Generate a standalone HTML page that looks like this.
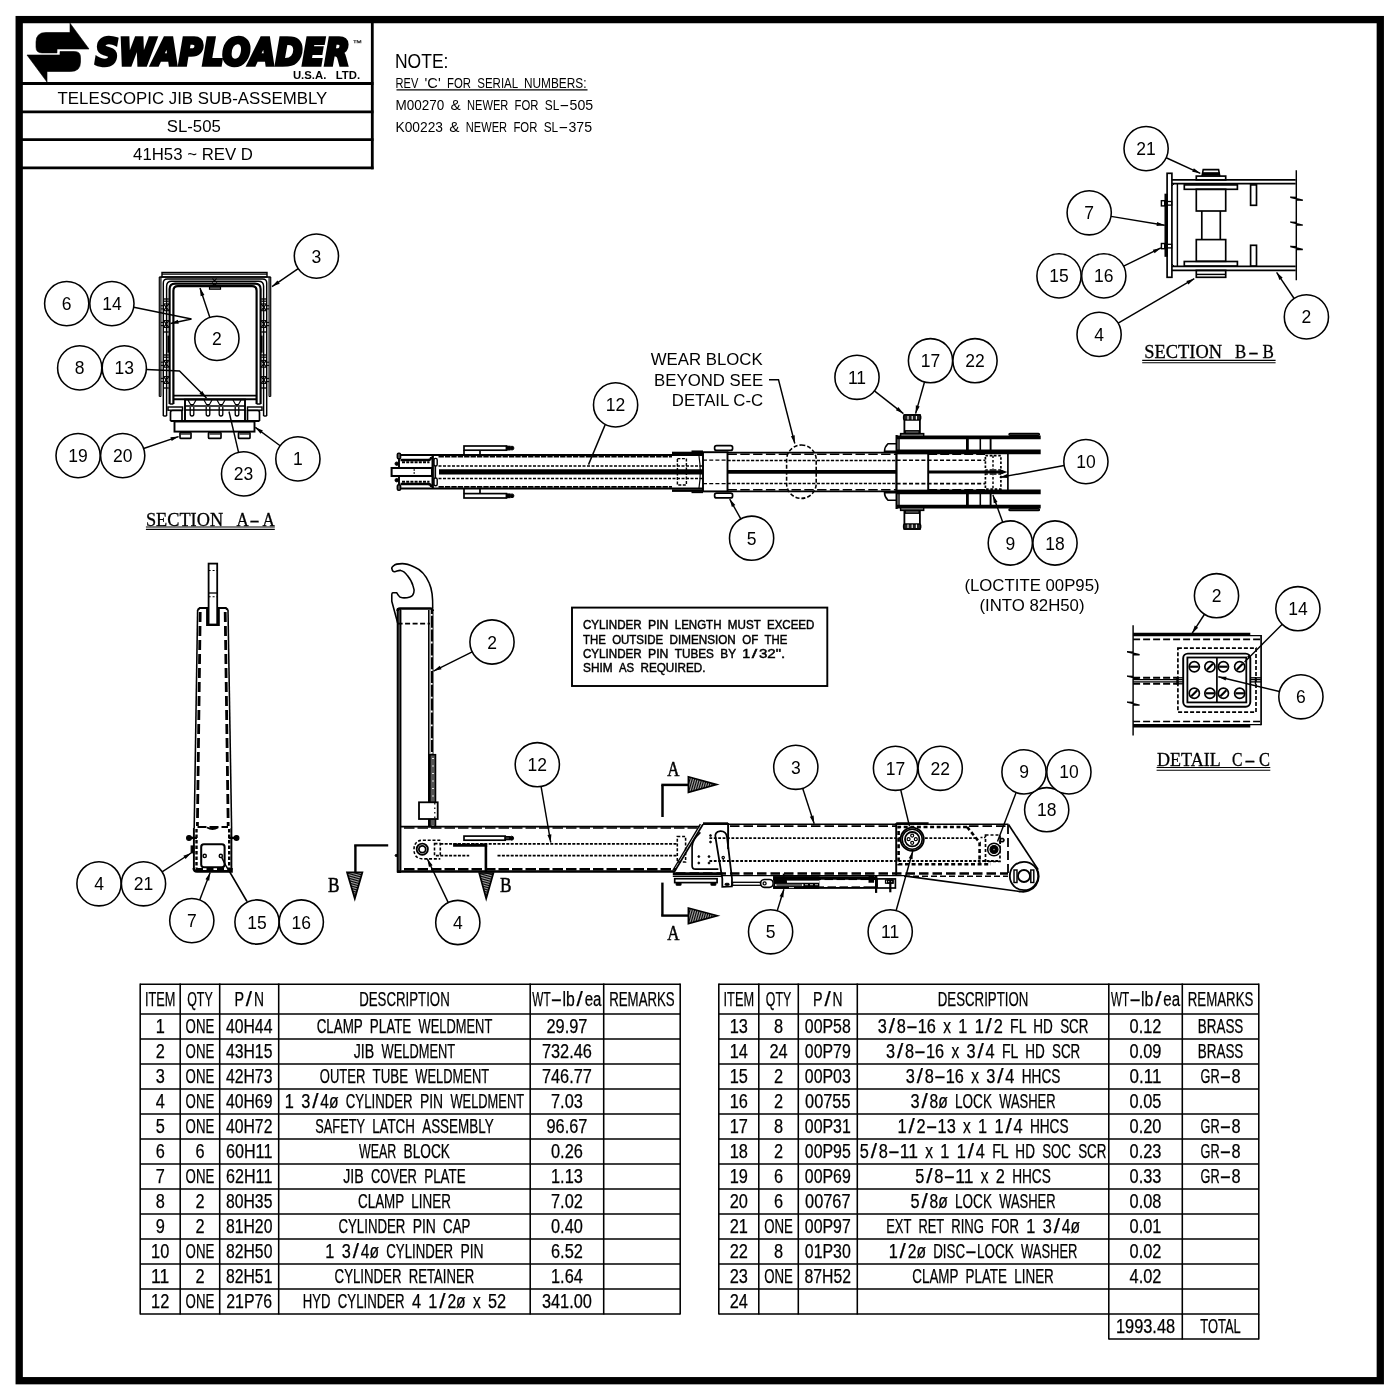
<!DOCTYPE html>
<html><head><meta charset="utf-8"><title>Telescopic Jib Sub-Assembly SL-505</title>
<style>
html,body{margin:0;padding:0;background:#fff}
svg{display:block;will-change:transform}
text{font-family:"Liberation Sans",sans-serif;fill:#000}
.ar{font-size:16.8px}
.bl{font-size:17.5px}
.tb{font-size:19.5px;stroke:#000;stroke-width:0.25px}
.nt{font-size:14px}
.nh{font-size:19.5px}
.bx{font-size:11.9px;stroke:#000;stroke-width:0.45px}
.sf{font-family:"Liberation Serif","DejaVu Serif",serif;font-size:19.2px;stroke:#000;stroke-width:0.3px}
.sl{font-family:"Liberation Serif","DejaVu Serif",serif;font-size:20.4px;stroke:#000;stroke-width:0.5px}
.lg{font-family:"DejaVu Sans","Liberation Sans",sans-serif;font-size:36.6px;font-weight:bold;font-style:oblique;stroke:#000;stroke-width:3.4px;stroke-linejoin:miter}
.us{font-size:10.1px;font-weight:bold}
.tm{font-size:9.6px;font-weight:bold}
</style></head><body>
<svg width="1400" height="1400" viewBox="0 0 1400 1400">
<defs>
<pattern id="hh" width="1.7" height="6" patternUnits="userSpaceOnUse" patternTransform="rotate(-12)"><rect width="1.7" height="6" fill="#fff"/><rect width="1.15" height="6" fill="#000"/></pattern>
<pattern id="hv" width="6" height="1.7" patternUnits="userSpaceOnUse" patternTransform="rotate(-12)"><rect width="6" height="1.7" fill="#fff"/><rect width="6" height="1.15" fill="#000"/></pattern>
</defs>
<rect x="0" y="0" width="1400" height="1400" fill="#fff"/>
<rect x="19.2" y="19.6" width="1361.1" height="1361.1" fill="none" stroke="#000" stroke-width="7.3"/>
<line x1="22" y1="83.5" x2="373.5" y2="83.5" stroke="#000" stroke-width="2.8"/>
<line x1="22" y1="111.8" x2="373.5" y2="111.8" stroke="#000" stroke-width="2.8"/>
<line x1="22" y1="139.6" x2="373.5" y2="139.6" stroke="#000" stroke-width="2.8"/>
<line x1="22" y1="167.9" x2="373.5" y2="167.9" stroke="#000" stroke-width="2.8"/>
<line x1="372.3" y1="22" x2="372.3" y2="169.3" stroke="#000" stroke-width="2.8"/>
<text x="57.6" y="104.1" class="ar" textLength="269.6" lengthAdjust="spacingAndGlyphs">TELESCOPIC JIB SUB-ASSEMBLY</text>
<text x="193.8" y="131.8" class="ar" text-anchor="middle">SL-505</text>
<text x="193" y="159.7" class="ar" text-anchor="middle">41H53 ~ REV D</text>
<path d="M70 23.2 L89 49 L57 49 L57 52.9 L42 52.9 Q36 52.9 36 47 L36 42 Q36 32.5 46 32.5 L70 32.5 Z" fill="#000" stroke="#000" stroke-width="0.6"/>
<path d="M27 55 L60 55 L60 51.5 L74.5 51.5 Q80.5 51.5 80.5 57.5 L80.5 62 Q80.5 71.5 70.5 71.5 L47 71.5 L47 82 Z" fill="#000" stroke="#000" stroke-width="0.6"/>
<text x="95.3" y="65.3" class="lg" textLength="254.6" lengthAdjust="spacingAndGlyphs">SWAPLOADER</text>
<text x="292.9" y="78.7" class="us" textLength="67.2" lengthAdjust="spacingAndGlyphs" xml:space="preserve">U.S.A.   LTD.</text>
<text x="352.6" y="47.4" class="tm">™</text>
<text y="67.5" class="nh"><tspan x="395" textLength="53.4" lengthAdjust="spacingAndGlyphs">NOTE:</tspan></text>
<text y="87.5" class="nt"><tspan x="395.5" textLength="22.79" lengthAdjust="spacingAndGlyphs">REV</tspan> <tspan x="424.58" textLength="16.11" lengthAdjust="spacingAndGlyphs">'C'</tspan> <tspan x="446.98" textLength="23.97" lengthAdjust="spacingAndGlyphs">FOR</tspan> <tspan x="477.24" textLength="40.48" lengthAdjust="spacingAndGlyphs">SERIAL</tspan> <tspan x="524.01" textLength="62.49" lengthAdjust="spacingAndGlyphs">NUMBERS:</tspan></text>
<line x1="396.5" y1="89.8" x2="587.5" y2="89.8" stroke="#000" stroke-width="1.2"/>
<text y="110" class="nt"><tspan x="395.5" textLength="48.73" lengthAdjust="spacingAndGlyphs">M00270</tspan> <tspan x="450.52" textLength="10.22" lengthAdjust="spacingAndGlyphs">&amp;</tspan> <tspan x="467.03" textLength="41.27" lengthAdjust="spacingAndGlyphs">NEWER</tspan> <tspan x="514.58" textLength="23.97" lengthAdjust="spacingAndGlyphs">FOR</tspan> <tspan x="544.84" textLength="14.54" lengthAdjust="spacingAndGlyphs">SL</tspan><tspan x="559.38" textLength="10.22" lengthAdjust="spacingAndGlyphs">-</tspan><tspan x="569.6" textLength="23.58" lengthAdjust="spacingAndGlyphs">505</tspan></text>
<text y="131.5" class="nt"><tspan x="395.5" textLength="47.55" lengthAdjust="spacingAndGlyphs">K00223</tspan> <tspan x="449.34" textLength="10.22" lengthAdjust="spacingAndGlyphs">&amp;</tspan> <tspan x="465.85" textLength="41.27" lengthAdjust="spacingAndGlyphs">NEWER</tspan> <tspan x="513.4" textLength="23.97" lengthAdjust="spacingAndGlyphs">FOR</tspan> <tspan x="543.66" textLength="14.54" lengthAdjust="spacingAndGlyphs">SL</tspan><tspan x="558.2" textLength="10.22" lengthAdjust="spacingAndGlyphs">-</tspan><tspan x="568.42" textLength="23.58" lengthAdjust="spacingAndGlyphs">375</tspan></text>
<rect x="572" y="607.6" width="255.3" height="78.4" fill="none" stroke="#000" stroke-width="1.92"/>
<text y="629.3" class="bx"><tspan x="583" textLength="58.65" lengthAdjust="spacingAndGlyphs">CYLINDER</tspan> <tspan x="648.04" textLength="20.35" lengthAdjust="spacingAndGlyphs">PIN</tspan> <tspan x="674.77" textLength="46.68" lengthAdjust="spacingAndGlyphs">LENGTH</tspan> <tspan x="727.84" textLength="32.72" lengthAdjust="spacingAndGlyphs">MUST</tspan> <tspan x="766.94" textLength="47.48" lengthAdjust="spacingAndGlyphs">EXCEED</tspan></text>
<text y="643.5" class="bx"><tspan x="583" textLength="22.74" lengthAdjust="spacingAndGlyphs">THE</tspan> <tspan x="612.13" textLength="51.07" lengthAdjust="spacingAndGlyphs">OUTSIDE</tspan> <tspan x="669.58" textLength="66.23" lengthAdjust="spacingAndGlyphs">DIMENSION</tspan> <tspan x="742.2" textLength="15.96" lengthAdjust="spacingAndGlyphs">OF</tspan> <tspan x="764.55" textLength="22.74" lengthAdjust="spacingAndGlyphs">THE</tspan></text>
<text y="657.7" class="bx"><tspan x="583" textLength="58.65" lengthAdjust="spacingAndGlyphs">CYLINDER</tspan> <tspan x="648.04" textLength="20.35" lengthAdjust="spacingAndGlyphs">PIN</tspan> <tspan x="674.77" textLength="39.1" lengthAdjust="spacingAndGlyphs">TUBES</tspan> <tspan x="720.26" textLength="15.56" lengthAdjust="spacingAndGlyphs">BY</tspan> <tspan x="742.2" textLength="7.98" lengthAdjust="spacingAndGlyphs">1</tspan><tspan x="751.85" textLength="5.44" lengthAdjust="spacingAndGlyphs">/</tspan><tspan x="758.96" textLength="26.33" lengthAdjust="spacingAndGlyphs">32".</tspan></text>
<text y="671.9" class="bx"><tspan x="583" textLength="29.53" lengthAdjust="spacingAndGlyphs">SHIM</tspan> <tspan x="618.91" textLength="15.16" lengthAdjust="spacingAndGlyphs">AS</tspan> <tspan x="640.46" textLength="65.04" lengthAdjust="spacingAndGlyphs">REQUIRED.</tspan></text>
<text x="762.6" y="365.1" class="ar" text-anchor="end">WEAR BLOCK</text>
<text x="763.2" y="385.5" class="ar" text-anchor="end">BEYOND SEE</text>
<text x="763.2" y="405.7" class="ar" text-anchor="end">DETAIL C-C</text>
<text x="1032" y="590.5" class="ar" text-anchor="middle">(LOCTITE 00P95)</text>
<text x="1032" y="611" class="ar" text-anchor="middle">(INTO 82H50)</text>
<text y="525.6" class="sf"><tspan x="145.9" textLength="77.2" lengthAdjust="spacingAndGlyphs">SECTION</tspan> <tspan x="236.6" textLength="12.2" lengthAdjust="spacingAndGlyphs">A</tspan><tspan x="249.6" textLength="10" lengthAdjust="spacingAndGlyphs">-</tspan><tspan x="262.5" textLength="12.2" lengthAdjust="spacingAndGlyphs">A</tspan></text>
<line x1="145.9" y1="527" x2="274.8" y2="527" stroke="#000" stroke-width="1.14"/>
<line x1="145.9" y1="529.4" x2="274.8" y2="529.4" stroke="#000" stroke-width="1.14"/>
<text y="358" class="sf"><tspan x="1144.3" textLength="77.7" lengthAdjust="spacingAndGlyphs">SECTION</tspan> <tspan x="1235.1" textLength="11.2" lengthAdjust="spacingAndGlyphs">B</tspan><tspan x="1248.3" textLength="10.3" lengthAdjust="spacingAndGlyphs">-</tspan><tspan x="1262.6" textLength="11.4" lengthAdjust="spacingAndGlyphs">B</tspan></text>
<line x1="1142.2" y1="360.4" x2="1275.6" y2="360.4" stroke="#000" stroke-width="1.14"/>
<line x1="1142.2" y1="362.7" x2="1275.6" y2="362.7" stroke="#000" stroke-width="1.14"/>
<text y="765.7" class="sf"><tspan x="1157.1" textLength="62.9" lengthAdjust="spacingAndGlyphs">DETAIL</tspan> <tspan x="1232" textLength="10.5" lengthAdjust="spacingAndGlyphs">C</tspan><tspan x="1244.6" textLength="10.8" lengthAdjust="spacingAndGlyphs">-</tspan><tspan x="1258.9" textLength="11" lengthAdjust="spacingAndGlyphs">C</tspan></text>
<line x1="1156.6" y1="767.5" x2="1270.3" y2="767.5" stroke="#000" stroke-width="1.14"/>
<line x1="1156.6" y1="770.3" x2="1270.3" y2="770.3" stroke="#000" stroke-width="1.14"/>
<line x1="140.2" y1="984.2" x2="680.2" y2="984.2" stroke="#000" stroke-width="1.56"/>
<line x1="140.2" y1="1014" x2="680.2" y2="1014" stroke="#000" stroke-width="1.56"/>
<line x1="140.2" y1="1039" x2="680.2" y2="1039" stroke="#000" stroke-width="1.56"/>
<line x1="140.2" y1="1064" x2="680.2" y2="1064" stroke="#000" stroke-width="1.56"/>
<line x1="140.2" y1="1089" x2="680.2" y2="1089" stroke="#000" stroke-width="1.56"/>
<line x1="140.2" y1="1114" x2="680.2" y2="1114" stroke="#000" stroke-width="1.56"/>
<line x1="140.2" y1="1139" x2="680.2" y2="1139" stroke="#000" stroke-width="1.56"/>
<line x1="140.2" y1="1164" x2="680.2" y2="1164" stroke="#000" stroke-width="1.56"/>
<line x1="140.2" y1="1189" x2="680.2" y2="1189" stroke="#000" stroke-width="1.56"/>
<line x1="140.2" y1="1214" x2="680.2" y2="1214" stroke="#000" stroke-width="1.56"/>
<line x1="140.2" y1="1239" x2="680.2" y2="1239" stroke="#000" stroke-width="1.56"/>
<line x1="140.2" y1="1264" x2="680.2" y2="1264" stroke="#000" stroke-width="1.56"/>
<line x1="140.2" y1="1289" x2="680.2" y2="1289" stroke="#000" stroke-width="1.56"/>
<line x1="140.2" y1="1314" x2="680.2" y2="1314" stroke="#000" stroke-width="1.56"/>
<line x1="140.2" y1="983.6" x2="140.2" y2="1314.6" stroke="#000" stroke-width="1.56"/>
<line x1="180.2" y1="983.6" x2="180.2" y2="1314.6" stroke="#000" stroke-width="1.56"/>
<line x1="219.7" y1="983.6" x2="219.7" y2="1314.6" stroke="#000" stroke-width="1.56"/>
<line x1="278.7" y1="983.6" x2="278.7" y2="1314.6" stroke="#000" stroke-width="1.56"/>
<line x1="530.2" y1="983.6" x2="530.2" y2="1314.6" stroke="#000" stroke-width="1.56"/>
<line x1="603.7" y1="983.6" x2="603.7" y2="1314.6" stroke="#000" stroke-width="1.56"/>
<line x1="680.2" y1="983.6" x2="680.2" y2="1314.6" stroke="#000" stroke-width="1.56"/>
<text y="1006.2" class="tb"><tspan x="144.96" textLength="30.48" lengthAdjust="spacingAndGlyphs">ITEM</tspan></text>
<text y="1006.2" class="tb"><tspan x="187.21" textLength="25.48" lengthAdjust="spacingAndGlyphs">QTY</tspan></text>
<text y="1006.2" class="tb"><tspan x="234.41" textLength="9.55" lengthAdjust="spacingAndGlyphs">P</tspan><tspan x="245.87" textLength="6.21" lengthAdjust="spacingAndGlyphs">/</tspan><tspan x="253.98" textLength="10.01" lengthAdjust="spacingAndGlyphs">N</tspan></text>
<text y="1006.2" class="tb"><tspan x="359.18" textLength="90.55" lengthAdjust="spacingAndGlyphs">DESCRIPTION</tspan></text>
<text y="1006.2" class="tb"><tspan x="532.37" textLength="18.2" lengthAdjust="spacingAndGlyphs">WT</tspan><tspan x="550.57" textLength="11.83" lengthAdjust="spacingAndGlyphs">-</tspan><tspan x="562.4" textLength="12.29" lengthAdjust="spacingAndGlyphs">lb</tspan><tspan x="576.59" textLength="6.21" lengthAdjust="spacingAndGlyphs">/</tspan><tspan x="584.7" textLength="16.84" lengthAdjust="spacingAndGlyphs">ea</tspan></text>
<text y="1006.2" class="tb"><tspan x="609.19" textLength="65.52" lengthAdjust="spacingAndGlyphs">REMARKS</tspan></text>
<text y="1033" class="tb"><tspan x="155.65" textLength="9.1" lengthAdjust="spacingAndGlyphs">1</tspan></text>
<text y="1033" class="tb"><tspan x="185.62" textLength="28.67" lengthAdjust="spacingAndGlyphs">ONE</tspan></text>
<text y="1033" class="tb"><tspan x="225.99" textLength="46.41" lengthAdjust="spacingAndGlyphs">40H44</tspan></text>
<text y="1033" class="tb"><tspan x="316.63" textLength="45.95" lengthAdjust="spacingAndGlyphs">CLAMP</tspan> <tspan x="369.87" textLength="41.41" lengthAdjust="spacingAndGlyphs">PLATE</tspan> <tspan x="418.56" textLength="73.71" lengthAdjust="spacingAndGlyphs">WELDMENT</tspan></text>
<text y="1033" class="tb"><tspan x="546.48" textLength="40.95" lengthAdjust="spacingAndGlyphs">29.97</tspan></text>
<text y="1058" class="tb"><tspan x="155.65" textLength="9.1" lengthAdjust="spacingAndGlyphs">2</tspan></text>
<text y="1058" class="tb"><tspan x="185.62" textLength="28.67" lengthAdjust="spacingAndGlyphs">ONE</tspan></text>
<text y="1058" class="tb"><tspan x="225.99" textLength="46.41" lengthAdjust="spacingAndGlyphs">43H15</tspan></text>
<text y="1058" class="tb"><tspan x="353.72" textLength="20.48" lengthAdjust="spacingAndGlyphs">JIB</tspan> <tspan x="381.47" textLength="73.71" lengthAdjust="spacingAndGlyphs">WELDMENT</tspan></text>
<text y="1058" class="tb"><tspan x="541.93" textLength="50.05" lengthAdjust="spacingAndGlyphs">732.46</tspan></text>
<text y="1083" class="tb"><tspan x="155.65" textLength="9.1" lengthAdjust="spacingAndGlyphs">3</tspan></text>
<text y="1083" class="tb"><tspan x="185.62" textLength="28.67" lengthAdjust="spacingAndGlyphs">ONE</tspan></text>
<text y="1083" class="tb"><tspan x="225.99" textLength="46.41" lengthAdjust="spacingAndGlyphs">42H73</tspan></text>
<text y="1083" class="tb"><tspan x="319.82" textLength="45.5" lengthAdjust="spacingAndGlyphs">OUTER</tspan> <tspan x="372.6" textLength="35.49" lengthAdjust="spacingAndGlyphs">TUBE</tspan> <tspan x="415.37" textLength="73.71" lengthAdjust="spacingAndGlyphs">WELDMENT</tspan></text>
<text y="1083" class="tb"><tspan x="541.93" textLength="50.05" lengthAdjust="spacingAndGlyphs">746.77</tspan></text>
<text y="1108" class="tb"><tspan x="155.65" textLength="9.1" lengthAdjust="spacingAndGlyphs">4</tspan></text>
<text y="1108" class="tb"><tspan x="185.62" textLength="28.67" lengthAdjust="spacingAndGlyphs">ONE</tspan></text>
<text y="1108" class="tb"><tspan x="225.99" textLength="46.41" lengthAdjust="spacingAndGlyphs">40H69</tspan></text>
<text y="1108" class="tb"><tspan x="284.78" textLength="9.1" lengthAdjust="spacingAndGlyphs">1</tspan> <tspan x="301.16" textLength="9.1" lengthAdjust="spacingAndGlyphs">3</tspan><tspan x="312.17" textLength="6.21" lengthAdjust="spacingAndGlyphs">/</tspan><tspan x="320.27" textLength="18.2" lengthAdjust="spacingAndGlyphs">4ø</tspan> <tspan x="345.75" textLength="66.89" lengthAdjust="spacingAndGlyphs">CYLINDER</tspan> <tspan x="419.92" textLength="23.21" lengthAdjust="spacingAndGlyphs">PIN</tspan> <tspan x="450.4" textLength="73.71" lengthAdjust="spacingAndGlyphs">WELDMENT</tspan></text>
<text y="1108" class="tb"><tspan x="551.03" textLength="31.85" lengthAdjust="spacingAndGlyphs">7.03</tspan></text>
<text y="1133" class="tb"><tspan x="155.65" textLength="9.1" lengthAdjust="spacingAndGlyphs">5</tspan></text>
<text y="1133" class="tb"><tspan x="185.62" textLength="28.67" lengthAdjust="spacingAndGlyphs">ONE</tspan></text>
<text y="1133" class="tb"><tspan x="225.99" textLength="46.41" lengthAdjust="spacingAndGlyphs">40H72</tspan></text>
<text y="1133" class="tb"><tspan x="315.27" textLength="49.59" lengthAdjust="spacingAndGlyphs">SAFETY</tspan> <tspan x="372.14" textLength="42.77" lengthAdjust="spacingAndGlyphs">LATCH</tspan> <tspan x="422.19" textLength="71.44" lengthAdjust="spacingAndGlyphs">ASSEMBLY</tspan></text>
<text y="1133" class="tb"><tspan x="546.48" textLength="40.95" lengthAdjust="spacingAndGlyphs">96.67</tspan></text>
<text y="1158" class="tb"><tspan x="155.65" textLength="9.1" lengthAdjust="spacingAndGlyphs">6</tspan></text>
<text y="1158" class="tb"><tspan x="195.4" textLength="9.1" lengthAdjust="spacingAndGlyphs">6</tspan></text>
<text y="1158" class="tb"><tspan x="225.99" textLength="46.41" lengthAdjust="spacingAndGlyphs">60H11</tspan></text>
<text y="1158" class="tb"><tspan x="358.95" textLength="37.31" lengthAdjust="spacingAndGlyphs">WEAR</tspan> <tspan x="403.54" textLength="46.41" lengthAdjust="spacingAndGlyphs">BLOCK</tspan></text>
<text y="1158" class="tb"><tspan x="551.03" textLength="31.85" lengthAdjust="spacingAndGlyphs">0.26</tspan></text>
<text y="1183" class="tb"><tspan x="155.65" textLength="9.1" lengthAdjust="spacingAndGlyphs">7</tspan></text>
<text y="1183" class="tb"><tspan x="185.62" textLength="28.67" lengthAdjust="spacingAndGlyphs">ONE</tspan></text>
<text y="1183" class="tb"><tspan x="225.99" textLength="46.41" lengthAdjust="spacingAndGlyphs">62H11</tspan></text>
<text y="1183" class="tb"><tspan x="343.25" textLength="20.48" lengthAdjust="spacingAndGlyphs">JIB</tspan> <tspan x="371.01" textLength="45.95" lengthAdjust="spacingAndGlyphs">COVER</tspan> <tspan x="424.24" textLength="41.41" lengthAdjust="spacingAndGlyphs">PLATE</tspan></text>
<text y="1183" class="tb"><tspan x="551.03" textLength="31.85" lengthAdjust="spacingAndGlyphs">1.13</tspan></text>
<text y="1208" class="tb"><tspan x="155.65" textLength="9.1" lengthAdjust="spacingAndGlyphs">8</tspan></text>
<text y="1208" class="tb"><tspan x="195.4" textLength="9.1" lengthAdjust="spacingAndGlyphs">2</tspan></text>
<text y="1208" class="tb"><tspan x="225.99" textLength="46.41" lengthAdjust="spacingAndGlyphs">80H35</tspan></text>
<text y="1208" class="tb"><tspan x="358.04" textLength="45.95" lengthAdjust="spacingAndGlyphs">CLAMP</tspan> <tspan x="411.27" textLength="39.59" lengthAdjust="spacingAndGlyphs">LINER</tspan></text>
<text y="1208" class="tb"><tspan x="551.03" textLength="31.85" lengthAdjust="spacingAndGlyphs">7.02</tspan></text>
<text y="1233" class="tb"><tspan x="155.65" textLength="9.1" lengthAdjust="spacingAndGlyphs">9</tspan></text>
<text y="1233" class="tb"><tspan x="195.4" textLength="9.1" lengthAdjust="spacingAndGlyphs">2</tspan></text>
<text y="1233" class="tb"><tspan x="225.99" textLength="46.41" lengthAdjust="spacingAndGlyphs">81H20</tspan></text>
<text y="1233" class="tb"><tspan x="338.47" textLength="66.89" lengthAdjust="spacingAndGlyphs">CYLINDER</tspan> <tspan x="412.64" textLength="23.21" lengthAdjust="spacingAndGlyphs">PIN</tspan> <tspan x="443.12" textLength="27.3" lengthAdjust="spacingAndGlyphs">CAP</tspan></text>
<text y="1233" class="tb"><tspan x="551.03" textLength="31.85" lengthAdjust="spacingAndGlyphs">0.40</tspan></text>
<text y="1258" class="tb"><tspan x="151.1" textLength="18.2" lengthAdjust="spacingAndGlyphs">10</tspan></text>
<text y="1258" class="tb"><tspan x="185.62" textLength="28.67" lengthAdjust="spacingAndGlyphs">ONE</tspan></text>
<text y="1258" class="tb"><tspan x="225.99" textLength="46.41" lengthAdjust="spacingAndGlyphs">82H50</tspan></text>
<text y="1258" class="tb"><tspan x="325.28" textLength="9.1" lengthAdjust="spacingAndGlyphs">1</tspan> <tspan x="341.66" textLength="9.1" lengthAdjust="spacingAndGlyphs">3</tspan><tspan x="352.66" textLength="6.21" lengthAdjust="spacingAndGlyphs">/</tspan><tspan x="360.77" textLength="18.2" lengthAdjust="spacingAndGlyphs">4ø</tspan> <tspan x="386.25" textLength="66.89" lengthAdjust="spacingAndGlyphs">CYLINDER</tspan> <tspan x="460.41" textLength="23.21" lengthAdjust="spacingAndGlyphs">PIN</tspan></text>
<text y="1258" class="tb"><tspan x="551.03" textLength="31.85" lengthAdjust="spacingAndGlyphs">6.52</tspan></text>
<text y="1283" class="tb"><tspan x="151.1" textLength="18.2" lengthAdjust="spacingAndGlyphs">11</tspan></text>
<text y="1283" class="tb"><tspan x="195.4" textLength="9.1" lengthAdjust="spacingAndGlyphs">2</tspan></text>
<text y="1283" class="tb"><tspan x="225.99" textLength="46.41" lengthAdjust="spacingAndGlyphs">82H51</tspan></text>
<text y="1283" class="tb"><tspan x="334.61" textLength="66.89" lengthAdjust="spacingAndGlyphs">CYLINDER</tspan> <tspan x="408.77" textLength="65.52" lengthAdjust="spacingAndGlyphs">RETAINER</tspan></text>
<text y="1283" class="tb"><tspan x="551.03" textLength="31.85" lengthAdjust="spacingAndGlyphs">1.64</tspan></text>
<text y="1308" class="tb"><tspan x="151.1" textLength="18.2" lengthAdjust="spacingAndGlyphs">12</tspan></text>
<text y="1308" class="tb"><tspan x="185.62" textLength="28.67" lengthAdjust="spacingAndGlyphs">ONE</tspan></text>
<text y="1308" class="tb"><tspan x="226.22" textLength="45.95" lengthAdjust="spacingAndGlyphs">21P76</tspan></text>
<text y="1308" class="tb"><tspan x="302.76" textLength="27.76" lengthAdjust="spacingAndGlyphs">HYD</tspan> <tspan x="337.79" textLength="66.89" lengthAdjust="spacingAndGlyphs">CYLINDER</tspan> <tspan x="411.96" textLength="9.1" lengthAdjust="spacingAndGlyphs">4</tspan> <tspan x="428.34" textLength="9.1" lengthAdjust="spacingAndGlyphs">1</tspan><tspan x="439.34" textLength="6.21" lengthAdjust="spacingAndGlyphs">/</tspan><tspan x="447.45" textLength="18.2" lengthAdjust="spacingAndGlyphs">2ø</tspan> <tspan x="472.93" textLength="7.74" lengthAdjust="spacingAndGlyphs">x</tspan> <tspan x="487.94" textLength="18.2" lengthAdjust="spacingAndGlyphs">52</tspan></text>
<text y="1308" class="tb"><tspan x="541.93" textLength="50.05" lengthAdjust="spacingAndGlyphs">341.00</tspan></text>
<line x1="718.8" y1="984.2" x2="1258.8" y2="984.2" stroke="#000" stroke-width="1.56"/>
<line x1="718.8" y1="1014" x2="1258.8" y2="1014" stroke="#000" stroke-width="1.56"/>
<line x1="718.8" y1="1039" x2="1258.8" y2="1039" stroke="#000" stroke-width="1.56"/>
<line x1="718.8" y1="1064" x2="1258.8" y2="1064" stroke="#000" stroke-width="1.56"/>
<line x1="718.8" y1="1089" x2="1258.8" y2="1089" stroke="#000" stroke-width="1.56"/>
<line x1="718.8" y1="1114" x2="1258.8" y2="1114" stroke="#000" stroke-width="1.56"/>
<line x1="718.8" y1="1139" x2="1258.8" y2="1139" stroke="#000" stroke-width="1.56"/>
<line x1="718.8" y1="1164" x2="1258.8" y2="1164" stroke="#000" stroke-width="1.56"/>
<line x1="718.8" y1="1189" x2="1258.8" y2="1189" stroke="#000" stroke-width="1.56"/>
<line x1="718.8" y1="1214" x2="1258.8" y2="1214" stroke="#000" stroke-width="1.56"/>
<line x1="718.8" y1="1239" x2="1258.8" y2="1239" stroke="#000" stroke-width="1.56"/>
<line x1="718.8" y1="1264" x2="1258.8" y2="1264" stroke="#000" stroke-width="1.56"/>
<line x1="718.8" y1="1289" x2="1258.8" y2="1289" stroke="#000" stroke-width="1.56"/>
<line x1="718.8" y1="1314" x2="1258.8" y2="1314" stroke="#000" stroke-width="1.56"/>
<line x1="718.8" y1="983.6" x2="718.8" y2="1314.6" stroke="#000" stroke-width="1.56"/>
<line x1="758.8" y1="983.6" x2="758.8" y2="1314.6" stroke="#000" stroke-width="1.56"/>
<line x1="798.3" y1="983.6" x2="798.3" y2="1314.6" stroke="#000" stroke-width="1.56"/>
<line x1="857.3" y1="983.6" x2="857.3" y2="1314.6" stroke="#000" stroke-width="1.56"/>
<line x1="1108.8" y1="983.6" x2="1108.8" y2="1314.6" stroke="#000" stroke-width="1.56"/>
<line x1="1182.3" y1="983.6" x2="1182.3" y2="1314.6" stroke="#000" stroke-width="1.56"/>
<line x1="1258.8" y1="983.6" x2="1258.8" y2="1314.6" stroke="#000" stroke-width="1.56"/>
<text y="1006.2" class="tb"><tspan x="723.56" textLength="30.48" lengthAdjust="spacingAndGlyphs">ITEM</tspan></text>
<text y="1006.2" class="tb"><tspan x="765.81" textLength="25.48" lengthAdjust="spacingAndGlyphs">QTY</tspan></text>
<text y="1006.2" class="tb"><tspan x="813.01" textLength="9.55" lengthAdjust="spacingAndGlyphs">P</tspan><tspan x="824.47" textLength="6.21" lengthAdjust="spacingAndGlyphs">/</tspan><tspan x="832.58" textLength="10.01" lengthAdjust="spacingAndGlyphs">N</tspan></text>
<text y="1006.2" class="tb"><tspan x="937.78" textLength="90.55" lengthAdjust="spacingAndGlyphs">DESCRIPTION</tspan></text>
<text y="1006.2" class="tb"><tspan x="1110.97" textLength="18.2" lengthAdjust="spacingAndGlyphs">WT</tspan><tspan x="1129.17" textLength="11.83" lengthAdjust="spacingAndGlyphs">-</tspan><tspan x="1141" textLength="12.29" lengthAdjust="spacingAndGlyphs">lb</tspan><tspan x="1155.19" textLength="6.21" lengthAdjust="spacingAndGlyphs">/</tspan><tspan x="1163.3" textLength="16.84" lengthAdjust="spacingAndGlyphs">ea</tspan></text>
<text y="1006.2" class="tb"><tspan x="1187.79" textLength="65.52" lengthAdjust="spacingAndGlyphs">REMARKS</tspan></text>
<text y="1033" class="tb"><tspan x="729.7" textLength="18.2" lengthAdjust="spacingAndGlyphs">13</tspan></text>
<text y="1033" class="tb"><tspan x="774" textLength="9.1" lengthAdjust="spacingAndGlyphs">8</tspan></text>
<text y="1033" class="tb"><tspan x="804.82" textLength="45.95" lengthAdjust="spacingAndGlyphs">00P58</tspan></text>
<text y="1033" class="tb"><tspan x="877.72" textLength="9.1" lengthAdjust="spacingAndGlyphs">3</tspan><tspan x="888.72" textLength="6.21" lengthAdjust="spacingAndGlyphs">/</tspan><tspan x="896.83" textLength="9.1" lengthAdjust="spacingAndGlyphs">8</tspan><tspan x="905.93" textLength="11.83" lengthAdjust="spacingAndGlyphs">-</tspan><tspan x="917.76" textLength="18.2" lengthAdjust="spacingAndGlyphs">16</tspan> <tspan x="943.24" textLength="7.74" lengthAdjust="spacingAndGlyphs">x</tspan> <tspan x="958.25" textLength="9.1" lengthAdjust="spacingAndGlyphs">1</tspan> <tspan x="974.63" textLength="9.1" lengthAdjust="spacingAndGlyphs">1</tspan><tspan x="985.63" textLength="6.21" lengthAdjust="spacingAndGlyphs">/</tspan><tspan x="993.74" textLength="9.1" lengthAdjust="spacingAndGlyphs">2</tspan> <tspan x="1010.12" textLength="15.93" lengthAdjust="spacingAndGlyphs">FL</tspan> <tspan x="1033.33" textLength="19.57" lengthAdjust="spacingAndGlyphs">HD</tspan> <tspan x="1060.17" textLength="28.21" lengthAdjust="spacingAndGlyphs">SCR</tspan></text>
<text y="1033" class="tb"><tspan x="1129.62" textLength="31.85" lengthAdjust="spacingAndGlyphs">0.12</tspan></text>
<text y="1033" class="tb"><tspan x="1197.8" textLength="45.5" lengthAdjust="spacingAndGlyphs">BRASS</tspan></text>
<text y="1058" class="tb"><tspan x="729.7" textLength="18.2" lengthAdjust="spacingAndGlyphs">14</tspan></text>
<text y="1058" class="tb"><tspan x="769.45" textLength="18.2" lengthAdjust="spacingAndGlyphs">24</tspan></text>
<text y="1058" class="tb"><tspan x="804.82" textLength="45.95" lengthAdjust="spacingAndGlyphs">00P79</tspan></text>
<text y="1058" class="tb"><tspan x="885.91" textLength="9.1" lengthAdjust="spacingAndGlyphs">3</tspan><tspan x="896.91" textLength="6.21" lengthAdjust="spacingAndGlyphs">/</tspan><tspan x="905.02" textLength="9.1" lengthAdjust="spacingAndGlyphs">8</tspan><tspan x="914.12" textLength="11.83" lengthAdjust="spacingAndGlyphs">-</tspan><tspan x="925.95" textLength="18.2" lengthAdjust="spacingAndGlyphs">16</tspan> <tspan x="951.43" textLength="7.74" lengthAdjust="spacingAndGlyphs">x</tspan> <tspan x="966.44" textLength="9.1" lengthAdjust="spacingAndGlyphs">3</tspan><tspan x="977.44" textLength="6.21" lengthAdjust="spacingAndGlyphs">/</tspan><tspan x="985.55" textLength="9.1" lengthAdjust="spacingAndGlyphs">4</tspan> <tspan x="1001.93" textLength="15.93" lengthAdjust="spacingAndGlyphs">FL</tspan> <tspan x="1025.14" textLength="19.57" lengthAdjust="spacingAndGlyphs">HD</tspan> <tspan x="1051.98" textLength="28.21" lengthAdjust="spacingAndGlyphs">SCR</tspan></text>
<text y="1058" class="tb"><tspan x="1129.62" textLength="31.85" lengthAdjust="spacingAndGlyphs">0.09</tspan></text>
<text y="1058" class="tb"><tspan x="1197.8" textLength="45.5" lengthAdjust="spacingAndGlyphs">BRASS</tspan></text>
<text y="1083" class="tb"><tspan x="729.7" textLength="18.2" lengthAdjust="spacingAndGlyphs">15</tspan></text>
<text y="1083" class="tb"><tspan x="774" textLength="9.1" lengthAdjust="spacingAndGlyphs">2</tspan></text>
<text y="1083" class="tb"><tspan x="804.82" textLength="45.95" lengthAdjust="spacingAndGlyphs">00P03</tspan></text>
<text y="1083" class="tb"><tspan x="905.7" textLength="9.1" lengthAdjust="spacingAndGlyphs">3</tspan><tspan x="916.7" textLength="6.21" lengthAdjust="spacingAndGlyphs">/</tspan><tspan x="924.81" textLength="9.1" lengthAdjust="spacingAndGlyphs">8</tspan><tspan x="933.91" textLength="11.83" lengthAdjust="spacingAndGlyphs">-</tspan><tspan x="945.74" textLength="18.2" lengthAdjust="spacingAndGlyphs">16</tspan> <tspan x="971.22" textLength="7.74" lengthAdjust="spacingAndGlyphs">x</tspan> <tspan x="986.23" textLength="9.1" lengthAdjust="spacingAndGlyphs">3</tspan><tspan x="997.24" textLength="6.21" lengthAdjust="spacingAndGlyphs">/</tspan><tspan x="1005.34" textLength="9.1" lengthAdjust="spacingAndGlyphs">4</tspan> <tspan x="1021.72" textLength="38.68" lengthAdjust="spacingAndGlyphs">HHCS</tspan></text>
<text y="1083" class="tb"><tspan x="1129.62" textLength="31.85" lengthAdjust="spacingAndGlyphs">0.11</tspan></text>
<text y="1083" class="tb"><tspan x="1200.53" textLength="19.11" lengthAdjust="spacingAndGlyphs">GR</tspan><tspan x="1219.64" textLength="11.83" lengthAdjust="spacingAndGlyphs">-</tspan><tspan x="1231.47" textLength="9.1" lengthAdjust="spacingAndGlyphs">8</tspan></text>
<text y="1108" class="tb"><tspan x="729.7" textLength="18.2" lengthAdjust="spacingAndGlyphs">16</tspan></text>
<text y="1108" class="tb"><tspan x="774" textLength="9.1" lengthAdjust="spacingAndGlyphs">2</tspan></text>
<text y="1108" class="tb"><tspan x="805.05" textLength="45.5" lengthAdjust="spacingAndGlyphs">00755</tspan></text>
<text y="1108" class="tb"><tspan x="910.48" textLength="9.1" lengthAdjust="spacingAndGlyphs">3</tspan><tspan x="921.48" textLength="6.21" lengthAdjust="spacingAndGlyphs">/</tspan><tspan x="929.59" textLength="18.2" lengthAdjust="spacingAndGlyphs">8ø</tspan> <tspan x="955.07" textLength="36.86" lengthAdjust="spacingAndGlyphs">LOCK</tspan> <tspan x="999.2" textLength="56.42" lengthAdjust="spacingAndGlyphs">WASHER</tspan></text>
<text y="1108" class="tb"><tspan x="1129.62" textLength="31.85" lengthAdjust="spacingAndGlyphs">0.05</tspan></text>
<text y="1133" class="tb"><tspan x="729.7" textLength="18.2" lengthAdjust="spacingAndGlyphs">17</tspan></text>
<text y="1133" class="tb"><tspan x="774" textLength="9.1" lengthAdjust="spacingAndGlyphs">8</tspan></text>
<text y="1133" class="tb"><tspan x="804.82" textLength="45.95" lengthAdjust="spacingAndGlyphs">00P31</tspan></text>
<text y="1133" class="tb"><tspan x="897.51" textLength="9.1" lengthAdjust="spacingAndGlyphs">1</tspan><tspan x="908.51" textLength="6.21" lengthAdjust="spacingAndGlyphs">/</tspan><tspan x="916.62" textLength="9.1" lengthAdjust="spacingAndGlyphs">2</tspan><tspan x="925.72" textLength="11.83" lengthAdjust="spacingAndGlyphs">-</tspan><tspan x="937.55" textLength="18.2" lengthAdjust="spacingAndGlyphs">13</tspan> <tspan x="963.03" textLength="7.74" lengthAdjust="spacingAndGlyphs">x</tspan> <tspan x="978.04" textLength="9.1" lengthAdjust="spacingAndGlyphs">1</tspan> <tspan x="994.42" textLength="9.1" lengthAdjust="spacingAndGlyphs">1</tspan><tspan x="1005.43" textLength="6.21" lengthAdjust="spacingAndGlyphs">/</tspan><tspan x="1013.53" textLength="9.1" lengthAdjust="spacingAndGlyphs">4</tspan> <tspan x="1029.91" textLength="38.68" lengthAdjust="spacingAndGlyphs">HHCS</tspan></text>
<text y="1133" class="tb"><tspan x="1129.62" textLength="31.85" lengthAdjust="spacingAndGlyphs">0.20</tspan></text>
<text y="1133" class="tb"><tspan x="1200.53" textLength="19.11" lengthAdjust="spacingAndGlyphs">GR</tspan><tspan x="1219.64" textLength="11.83" lengthAdjust="spacingAndGlyphs">-</tspan><tspan x="1231.47" textLength="9.1" lengthAdjust="spacingAndGlyphs">8</tspan></text>
<text y="1158" class="tb"><tspan x="729.7" textLength="18.2" lengthAdjust="spacingAndGlyphs">18</tspan></text>
<text y="1158" class="tb"><tspan x="774" textLength="9.1" lengthAdjust="spacingAndGlyphs">2</tspan></text>
<text y="1158" class="tb"><tspan x="804.82" textLength="45.95" lengthAdjust="spacingAndGlyphs">00P95</tspan></text>
<text y="1158" class="tb"><tspan x="859.74" textLength="9.1" lengthAdjust="spacingAndGlyphs">5</tspan><tspan x="870.75" textLength="6.21" lengthAdjust="spacingAndGlyphs">/</tspan><tspan x="878.85" textLength="9.1" lengthAdjust="spacingAndGlyphs">8</tspan><tspan x="887.95" textLength="11.83" lengthAdjust="spacingAndGlyphs">-</tspan><tspan x="899.78" textLength="18.2" lengthAdjust="spacingAndGlyphs">11</tspan> <tspan x="925.26" textLength="7.74" lengthAdjust="spacingAndGlyphs">x</tspan> <tspan x="940.28" textLength="9.1" lengthAdjust="spacingAndGlyphs">1</tspan> <tspan x="956.66" textLength="9.1" lengthAdjust="spacingAndGlyphs">1</tspan><tspan x="967.66" textLength="6.21" lengthAdjust="spacingAndGlyphs">/</tspan><tspan x="975.77" textLength="9.1" lengthAdjust="spacingAndGlyphs">4</tspan> <tspan x="992.15" textLength="15.93" lengthAdjust="spacingAndGlyphs">FL</tspan> <tspan x="1015.35" textLength="19.57" lengthAdjust="spacingAndGlyphs">HD</tspan> <tspan x="1042.2" textLength="28.67" lengthAdjust="spacingAndGlyphs">SOC</tspan> <tspan x="1078.14" textLength="28.21" lengthAdjust="spacingAndGlyphs">SCR</tspan></text>
<text y="1158" class="tb"><tspan x="1129.62" textLength="31.85" lengthAdjust="spacingAndGlyphs">0.23</tspan></text>
<text y="1158" class="tb"><tspan x="1200.53" textLength="19.11" lengthAdjust="spacingAndGlyphs">GR</tspan><tspan x="1219.64" textLength="11.83" lengthAdjust="spacingAndGlyphs">-</tspan><tspan x="1231.47" textLength="9.1" lengthAdjust="spacingAndGlyphs">8</tspan></text>
<text y="1183" class="tb"><tspan x="729.7" textLength="18.2" lengthAdjust="spacingAndGlyphs">19</tspan></text>
<text y="1183" class="tb"><tspan x="774" textLength="9.1" lengthAdjust="spacingAndGlyphs">6</tspan></text>
<text y="1183" class="tb"><tspan x="804.82" textLength="45.95" lengthAdjust="spacingAndGlyphs">00P69</tspan></text>
<text y="1183" class="tb"><tspan x="915.25" textLength="9.1" lengthAdjust="spacingAndGlyphs">5</tspan><tspan x="926.26" textLength="6.21" lengthAdjust="spacingAndGlyphs">/</tspan><tspan x="934.37" textLength="9.1" lengthAdjust="spacingAndGlyphs">8</tspan><tspan x="943.47" textLength="11.83" lengthAdjust="spacingAndGlyphs">-</tspan><tspan x="955.29" textLength="18.2" lengthAdjust="spacingAndGlyphs">11</tspan> <tspan x="980.77" textLength="7.74" lengthAdjust="spacingAndGlyphs">x</tspan> <tspan x="995.79" textLength="9.1" lengthAdjust="spacingAndGlyphs">2</tspan> <tspan x="1012.17" textLength="38.68" lengthAdjust="spacingAndGlyphs">HHCS</tspan></text>
<text y="1183" class="tb"><tspan x="1129.62" textLength="31.85" lengthAdjust="spacingAndGlyphs">0.33</tspan></text>
<text y="1183" class="tb"><tspan x="1200.53" textLength="19.11" lengthAdjust="spacingAndGlyphs">GR</tspan><tspan x="1219.64" textLength="11.83" lengthAdjust="spacingAndGlyphs">-</tspan><tspan x="1231.47" textLength="9.1" lengthAdjust="spacingAndGlyphs">8</tspan></text>
<text y="1208" class="tb"><tspan x="729.7" textLength="18.2" lengthAdjust="spacingAndGlyphs">20</tspan></text>
<text y="1208" class="tb"><tspan x="774" textLength="9.1" lengthAdjust="spacingAndGlyphs">6</tspan></text>
<text y="1208" class="tb"><tspan x="805.05" textLength="45.5" lengthAdjust="spacingAndGlyphs">00767</tspan></text>
<text y="1208" class="tb"><tspan x="910.48" textLength="9.1" lengthAdjust="spacingAndGlyphs">5</tspan><tspan x="921.48" textLength="6.21" lengthAdjust="spacingAndGlyphs">/</tspan><tspan x="929.59" textLength="18.2" lengthAdjust="spacingAndGlyphs">8ø</tspan> <tspan x="955.07" textLength="36.86" lengthAdjust="spacingAndGlyphs">LOCK</tspan> <tspan x="999.2" textLength="56.42" lengthAdjust="spacingAndGlyphs">WASHER</tspan></text>
<text y="1208" class="tb"><tspan x="1129.62" textLength="31.85" lengthAdjust="spacingAndGlyphs">0.08</tspan></text>
<text y="1233" class="tb"><tspan x="729.7" textLength="18.2" lengthAdjust="spacingAndGlyphs">21</tspan></text>
<text y="1233" class="tb"><tspan x="764.22" textLength="28.67" lengthAdjust="spacingAndGlyphs">ONE</tspan></text>
<text y="1233" class="tb"><tspan x="804.82" textLength="45.95" lengthAdjust="spacingAndGlyphs">00P97</tspan></text>
<text y="1233" class="tb"><tspan x="886.13" textLength="25.03" lengthAdjust="spacingAndGlyphs">EXT</tspan> <tspan x="918.44" textLength="25.48" lengthAdjust="spacingAndGlyphs">RET</tspan> <tspan x="951.2" textLength="32.76" lengthAdjust="spacingAndGlyphs">RING</tspan> <tspan x="991.24" textLength="27.76" lengthAdjust="spacingAndGlyphs">FOR</tspan> <tspan x="1026.28" textLength="9.1" lengthAdjust="spacingAndGlyphs">1</tspan> <tspan x="1042.65" textLength="9.1" lengthAdjust="spacingAndGlyphs">3</tspan><tspan x="1053.66" textLength="6.21" lengthAdjust="spacingAndGlyphs">/</tspan><tspan x="1061.76" textLength="18.2" lengthAdjust="spacingAndGlyphs">4ø</tspan></text>
<text y="1233" class="tb"><tspan x="1129.62" textLength="31.85" lengthAdjust="spacingAndGlyphs">0.01</tspan></text>
<text y="1258" class="tb"><tspan x="729.7" textLength="18.2" lengthAdjust="spacingAndGlyphs">22</tspan></text>
<text y="1258" class="tb"><tspan x="774" textLength="9.1" lengthAdjust="spacingAndGlyphs">8</tspan></text>
<text y="1258" class="tb"><tspan x="804.82" textLength="45.95" lengthAdjust="spacingAndGlyphs">01P30</tspan></text>
<text y="1258" class="tb"><tspan x="888.64" textLength="9.1" lengthAdjust="spacingAndGlyphs">1</tspan><tspan x="899.64" textLength="6.21" lengthAdjust="spacingAndGlyphs">/</tspan><tspan x="907.75" textLength="18.2" lengthAdjust="spacingAndGlyphs">2ø</tspan> <tspan x="933.23" textLength="31.85" lengthAdjust="spacingAndGlyphs">DISC</tspan><tspan x="965.08" textLength="11.83" lengthAdjust="spacingAndGlyphs">-</tspan><tspan x="976.91" textLength="36.86" lengthAdjust="spacingAndGlyphs">LOCK</tspan> <tspan x="1021.04" textLength="56.42" lengthAdjust="spacingAndGlyphs">WASHER</tspan></text>
<text y="1258" class="tb"><tspan x="1129.62" textLength="31.85" lengthAdjust="spacingAndGlyphs">0.02</tspan></text>
<text y="1283" class="tb"><tspan x="729.7" textLength="18.2" lengthAdjust="spacingAndGlyphs">23</tspan></text>
<text y="1283" class="tb"><tspan x="764.22" textLength="28.67" lengthAdjust="spacingAndGlyphs">ONE</tspan></text>
<text y="1283" class="tb"><tspan x="804.59" textLength="46.41" lengthAdjust="spacingAndGlyphs">87H52</tspan></text>
<text y="1283" class="tb"><tspan x="912.3" textLength="45.95" lengthAdjust="spacingAndGlyphs">CLAMP</tspan> <tspan x="965.53" textLength="41.41" lengthAdjust="spacingAndGlyphs">PLATE</tspan> <tspan x="1014.22" textLength="39.59" lengthAdjust="spacingAndGlyphs">LINER</tspan></text>
<text y="1283" class="tb"><tspan x="1129.62" textLength="31.85" lengthAdjust="spacingAndGlyphs">4.02</tspan></text>
<text y="1308" class="tb"><tspan x="729.7" textLength="18.2" lengthAdjust="spacingAndGlyphs">24</tspan></text>
<line x1="1108.8" y1="1339" x2="1258.8" y2="1339" stroke="#000" stroke-width="1.56"/>
<line x1="1108.8" y1="1314" x2="1108.8" y2="1339.6" stroke="#000" stroke-width="1.56"/>
<line x1="1182.3" y1="1314" x2="1182.3" y2="1339.6" stroke="#000" stroke-width="1.56"/>
<line x1="1258.8" y1="1314" x2="1258.8" y2="1339.6" stroke="#000" stroke-width="1.56"/>
<text y="1333.2" class="tb"><tspan x="1115.97" textLength="59.15" lengthAdjust="spacingAndGlyphs">1993.48</tspan></text>
<text y="1333.2" class="tb"><tspan x="1200.3" textLength="40.5" lengthAdjust="spacingAndGlyphs">TOTAL</tspan></text>
<rect x="162" y="272.5" width="105" height="4.5" fill="none" stroke="#000" stroke-width="1.44"/>
<line x1="162" y1="274.2" x2="267" y2="274.2" stroke="#000" stroke-width="1.2"/>
<line x1="159.3" y1="277" x2="159.3" y2="396.5" stroke="#000" stroke-width="1.2"/>
<line x1="160.9" y1="277" x2="160.9" y2="396.5" stroke="#000" stroke-width="1.2"/>
<line x1="270.7" y1="277" x2="270.7" y2="396.5" stroke="#000" stroke-width="1.2"/>
<line x1="269.1" y1="277" x2="269.1" y2="396.5" stroke="#000" stroke-width="1.2"/>
<line x1="159.3" y1="277" x2="270.7" y2="277" stroke="#000" stroke-width="1.44"/>
<line x1="159.3" y1="396.5" x2="161" y2="396.5" stroke="#000" stroke-width="1.2"/>
<line x1="269" y1="396.5" x2="270.7" y2="396.5" stroke="#000" stroke-width="1.2"/>
<path d="M163.3 416 L163.3 283 Q163.3 279 167.3 279 L262.7 279 Q266.7 279 266.7 283 L266.7 416" fill="none" stroke="#000" stroke-width="1.44"/>
<path d="M166.6 416 L166.6 286.2 Q166.6 281.2 171.6 281.2 L258.6 281.2 Q263.6 281.2 263.6 286.2 L263.6 416" fill="none" stroke="#000" stroke-width="1.44"/>
<line x1="163.3" y1="416" x2="166.6" y2="416" stroke="#000" stroke-width="1.44"/>
<line x1="263.6" y1="416" x2="266.7" y2="416" stroke="#000" stroke-width="1.44"/>
<path d="M169.6 404 L169.6 289.1 Q169.6 283.6 175.1 283.6 L255.1 283.6 Q260.6 283.6 260.6 289.1 L260.6 404" fill="none" stroke="#000" stroke-width="2.16"/>
<path d="M173.4 404 L173.4 290.7 Q173.4 286.2 177.9 286.2 L252.1 286.2 Q256.6 286.2 256.6 290.7 L256.6 404" fill="none" stroke="#000" stroke-width="2.16"/>
<line x1="169.6" y1="404" x2="173.4" y2="404" stroke="#000" stroke-width="1.44"/>
<line x1="256.6" y1="404" x2="260.6" y2="404" stroke="#000" stroke-width="1.44"/>
<line x1="173.4" y1="395.6" x2="256.6" y2="395.6" stroke="#000" stroke-width="1.92"/>
<line x1="173.4" y1="399.2" x2="256.6" y2="399.2" stroke="#000" stroke-width="1.92"/>
<path d="M212.5 278.5 L214.5 281 L216.5 278.5" fill="none" stroke="#000" stroke-width="1.2"/>
<path d="M212 282.5 L214.5 285.5 L217 282.5" fill="none" stroke="#000" stroke-width="1.2"/>
<rect x="209.5" y="287" width="11" height="2.2" fill="#999" stroke="#000" stroke-width="1.2"/>
<line x1="163.6" y1="299" x2="168.8" y2="299" stroke="#000" stroke-width="1.32"/>
<line x1="163.6" y1="301.2" x2="168.8" y2="301.2" stroke="#000" stroke-width="1.2"/>
<line x1="163.6" y1="332" x2="168.8" y2="332" stroke="#000" stroke-width="1.32"/>
<line x1="163.6" y1="303.9" x2="168.8" y2="310.7" stroke="#000" stroke-width="1.2"/>
<line x1="163.6" y1="310.7" x2="168.8" y2="303.9" stroke="#000" stroke-width="1.2"/>
<line x1="163.6" y1="303.9" x2="168.8" y2="303.9" stroke="#000" stroke-width="1.08"/>
<line x1="163.6" y1="310.7" x2="168.8" y2="310.7" stroke="#000" stroke-width="1.08"/>
<line x1="160.9" y1="305.7" x2="163.3" y2="305.7" stroke="#000" stroke-width="1.08"/>
<line x1="160.9" y1="308.9" x2="163.3" y2="308.9" stroke="#000" stroke-width="1.08"/>
<line x1="163.6" y1="320.6" x2="168.8" y2="327.4" stroke="#000" stroke-width="1.2"/>
<line x1="163.6" y1="327.4" x2="168.8" y2="320.6" stroke="#000" stroke-width="1.2"/>
<line x1="163.6" y1="320.6" x2="168.8" y2="320.6" stroke="#000" stroke-width="1.08"/>
<line x1="163.6" y1="327.4" x2="168.8" y2="327.4" stroke="#000" stroke-width="1.08"/>
<line x1="160.9" y1="322.4" x2="163.3" y2="322.4" stroke="#000" stroke-width="1.08"/>
<line x1="160.9" y1="325.6" x2="163.3" y2="325.6" stroke="#000" stroke-width="1.08"/>
<line x1="163.6" y1="355" x2="168.8" y2="355" stroke="#000" stroke-width="1.32"/>
<line x1="163.6" y1="357.2" x2="168.8" y2="357.2" stroke="#000" stroke-width="1.2"/>
<line x1="163.6" y1="388" x2="168.8" y2="388" stroke="#000" stroke-width="1.32"/>
<line x1="163.6" y1="360.4" x2="168.8" y2="367.2" stroke="#000" stroke-width="1.2"/>
<line x1="163.6" y1="367.2" x2="168.8" y2="360.4" stroke="#000" stroke-width="1.2"/>
<line x1="163.6" y1="360.4" x2="168.8" y2="360.4" stroke="#000" stroke-width="1.08"/>
<line x1="163.6" y1="367.2" x2="168.8" y2="367.2" stroke="#000" stroke-width="1.08"/>
<line x1="160.9" y1="362.2" x2="163.3" y2="362.2" stroke="#000" stroke-width="1.08"/>
<line x1="160.9" y1="365.4" x2="163.3" y2="365.4" stroke="#000" stroke-width="1.08"/>
<line x1="163.6" y1="376.6" x2="168.8" y2="383.4" stroke="#000" stroke-width="1.2"/>
<line x1="163.6" y1="383.4" x2="168.8" y2="376.6" stroke="#000" stroke-width="1.2"/>
<line x1="163.6" y1="376.6" x2="168.8" y2="376.6" stroke="#000" stroke-width="1.08"/>
<line x1="163.6" y1="383.4" x2="168.8" y2="383.4" stroke="#000" stroke-width="1.08"/>
<line x1="160.9" y1="378.4" x2="163.3" y2="378.4" stroke="#000" stroke-width="1.08"/>
<line x1="160.9" y1="381.6" x2="163.3" y2="381.6" stroke="#000" stroke-width="1.08"/>
<line x1="168.4" y1="335.6" x2="168.4" y2="352.7" stroke="#000" stroke-width="2.04"/>
<line x1="266.4" y1="299" x2="261.2" y2="299" stroke="#000" stroke-width="1.32"/>
<line x1="266.4" y1="301.2" x2="261.2" y2="301.2" stroke="#000" stroke-width="1.2"/>
<line x1="266.4" y1="332" x2="261.2" y2="332" stroke="#000" stroke-width="1.32"/>
<line x1="266.4" y1="303.9" x2="261.2" y2="310.7" stroke="#000" stroke-width="1.2"/>
<line x1="266.4" y1="310.7" x2="261.2" y2="303.9" stroke="#000" stroke-width="1.2"/>
<line x1="266.4" y1="303.9" x2="261.2" y2="303.9" stroke="#000" stroke-width="1.08"/>
<line x1="266.4" y1="310.7" x2="261.2" y2="310.7" stroke="#000" stroke-width="1.08"/>
<line x1="269.1" y1="305.7" x2="266.7" y2="305.7" stroke="#000" stroke-width="1.08"/>
<line x1="269.1" y1="308.9" x2="266.7" y2="308.9" stroke="#000" stroke-width="1.08"/>
<line x1="266.4" y1="320.6" x2="261.2" y2="327.4" stroke="#000" stroke-width="1.2"/>
<line x1="266.4" y1="327.4" x2="261.2" y2="320.6" stroke="#000" stroke-width="1.2"/>
<line x1="266.4" y1="320.6" x2="261.2" y2="320.6" stroke="#000" stroke-width="1.08"/>
<line x1="266.4" y1="327.4" x2="261.2" y2="327.4" stroke="#000" stroke-width="1.08"/>
<line x1="269.1" y1="322.4" x2="266.7" y2="322.4" stroke="#000" stroke-width="1.08"/>
<line x1="269.1" y1="325.6" x2="266.7" y2="325.6" stroke="#000" stroke-width="1.08"/>
<line x1="266.4" y1="355" x2="261.2" y2="355" stroke="#000" stroke-width="1.32"/>
<line x1="266.4" y1="357.2" x2="261.2" y2="357.2" stroke="#000" stroke-width="1.2"/>
<line x1="266.4" y1="388" x2="261.2" y2="388" stroke="#000" stroke-width="1.32"/>
<line x1="266.4" y1="360.4" x2="261.2" y2="367.2" stroke="#000" stroke-width="1.2"/>
<line x1="266.4" y1="367.2" x2="261.2" y2="360.4" stroke="#000" stroke-width="1.2"/>
<line x1="266.4" y1="360.4" x2="261.2" y2="360.4" stroke="#000" stroke-width="1.08"/>
<line x1="266.4" y1="367.2" x2="261.2" y2="367.2" stroke="#000" stroke-width="1.08"/>
<line x1="269.1" y1="362.2" x2="266.7" y2="362.2" stroke="#000" stroke-width="1.08"/>
<line x1="269.1" y1="365.4" x2="266.7" y2="365.4" stroke="#000" stroke-width="1.08"/>
<line x1="266.4" y1="376.6" x2="261.2" y2="383.4" stroke="#000" stroke-width="1.2"/>
<line x1="266.4" y1="383.4" x2="261.2" y2="376.6" stroke="#000" stroke-width="1.2"/>
<line x1="266.4" y1="376.6" x2="261.2" y2="376.6" stroke="#000" stroke-width="1.08"/>
<line x1="266.4" y1="383.4" x2="261.2" y2="383.4" stroke="#000" stroke-width="1.08"/>
<line x1="269.1" y1="378.4" x2="266.7" y2="378.4" stroke="#000" stroke-width="1.08"/>
<line x1="269.1" y1="381.6" x2="266.7" y2="381.6" stroke="#000" stroke-width="1.08"/>
<line x1="261.6" y1="335.6" x2="261.6" y2="352.7" stroke="#000" stroke-width="2.04"/>
<rect x="185" y="399.6" width="60" height="21.4" fill="none" stroke="#000" stroke-width="1.92"/>
<line x1="185" y1="406" x2="245" y2="406" stroke="#000" stroke-width="1.56"/>
<line x1="185" y1="410" x2="245" y2="410" stroke="#000" stroke-width="1.56"/>
<path d="M188 400 L190.5 404.5 L193.5 404.5 L196 400" fill="none" stroke="#000" stroke-width="1.2"/>
<line x1="192" y1="404.5" x2="192" y2="406" stroke="#000" stroke-width="1.2"/>
<path d="M190.2 407 L190.2 414 Q190.2 416 192 416 Q193.8 416 193.8 414 L193.8 407" fill="none" stroke="#000" stroke-width="1.32"/>
<path d="M204 400 L206.5 404.5 L209.5 404.5 L212 400" fill="none" stroke="#000" stroke-width="1.2"/>
<line x1="208" y1="404.5" x2="208" y2="406" stroke="#000" stroke-width="1.2"/>
<path d="M206.2 407 L206.2 414 Q206.2 416 208 416 Q209.8 416 209.8 414 L209.8 407" fill="none" stroke="#000" stroke-width="1.32"/>
<path d="M217 400 L219.5 404.5 L222.5 404.5 L225 400" fill="none" stroke="#000" stroke-width="1.2"/>
<line x1="221" y1="404.5" x2="221" y2="406" stroke="#000" stroke-width="1.2"/>
<path d="M219.2 407 L219.2 414 Q219.2 416 221 416 Q222.8 416 222.8 414 L222.8 407" fill="none" stroke="#000" stroke-width="1.32"/>
<path d="M233 400 L235.5 404.5 L238.5 404.5 L241 400" fill="none" stroke="#000" stroke-width="1.2"/>
<line x1="237" y1="404.5" x2="237" y2="406" stroke="#000" stroke-width="1.2"/>
<path d="M235.2 407 L235.2 414 Q235.2 416 237 416 Q238.8 416 238.8 414 L238.8 407" fill="none" stroke="#000" stroke-width="1.32"/>
<path d="M182 421 L182 410.5 L172.5 410.5 Q170.5 410.5 170.5 412.5 L170.5 421" fill="none" stroke="#000" stroke-width="1.68"/>
<rect x="168" y="407" width="14.5" height="3.2" fill="none" stroke="#000" stroke-width="1.44"/>
<path d="M247.5 421 L247.5 410.5 L257.5 410.5 Q259.5 410.5 259.5 412.5 L259.5 421" fill="none" stroke="#000" stroke-width="1.68"/>
<rect x="247.5" y="407" width="14.5" height="3.2" fill="none" stroke="#000" stroke-width="1.44"/>
<line x1="170.5" y1="421" x2="259.5" y2="421" stroke="#000" stroke-width="1.92"/>
<rect x="174.5" y="421.5" width="80" height="10.1" fill="none" stroke="#000" stroke-width="1.92"/>
<rect x="180" y="432.3" width="11" height="6.1" rx="1" fill="none" stroke="#000" stroke-width="1.68"/>
<line x1="181" y1="434" x2="190" y2="434" stroke="#000" stroke-width="1.2"/>
<rect x="208.5" y="432.3" width="12.5" height="6.1" rx="1" fill="none" stroke="#000" stroke-width="1.68"/>
<line x1="209.5" y1="434" x2="220" y2="434" stroke="#000" stroke-width="1.2"/>
<rect x="238.5" y="432.3" width="11.5" height="6.1" rx="1" fill="none" stroke="#000" stroke-width="1.68"/>
<line x1="239.5" y1="434" x2="249" y2="434" stroke="#000" stroke-width="1.2"/>
<path d="M298.18 268.61 L272 286.6" fill="none" stroke="#000" stroke-width="1.44"/>
<polygon points="272,286.6 277.46,280.42 279.73,283.72" fill="#000"/>
<path d="M133.8 307.2 L191.5 319 L170.5 323.5" fill="none" stroke="#000" stroke-width="1.44"/>
<polygon points="170.5,323.5 177.9,319.87 178.74,323.78" fill="#000"/>
<path d="M209.87 317.45 L200 288" fill="none" stroke="#000" stroke-width="1.44"/>
<polygon points="200,288 204.44,294.95 200.65,296.22" fill="#000"/>
<path d="M146.3 369.5 L179.5 371 L206.5 398" fill="none" stroke="#000" stroke-width="1.44"/>
<polygon points="206.5,398 199.43,393.76 202.26,390.93" fill="#000"/>
<path d="M143.62 448.49 L178.6 436.6" fill="none" stroke="#000" stroke-width="1.44"/>
<polygon points="178.6,436.6 171.67,441.07 170.38,437.28" fill="#000"/>
<path d="M238.57 452.38 L229 411.5" fill="none" stroke="#000" stroke-width="1.44"/>
<path d="M280.15 445.73 L255.3 427.3" fill="none" stroke="#000" stroke-width="1.44"/>
<polygon points="255.3,427.3 262.92,430.46 260.53,433.67" fill="#000"/>
<circle cx="316.4" cy="256.1" r="22.1" fill="#fff" stroke="#000" stroke-width="1.56"/>
<text x="316.4" y="262.6" class="bl" text-anchor="middle">3</text>
<circle cx="66.7" cy="303.6" r="22.1" fill="#fff" stroke="#000" stroke-width="1.56"/>
<text x="66.7" y="310.1" class="bl" text-anchor="middle">6</text>
<circle cx="111.9" cy="303.6" r="22.1" fill="#fff" stroke="#000" stroke-width="1.56"/>
<text x="111.9" y="310.1" class="bl" text-anchor="middle">14</text>
<circle cx="216.9" cy="338.4" r="22.1" fill="#fff" stroke="#000" stroke-width="1.56"/>
<text x="216.9" y="344.9" class="bl" text-anchor="middle">2</text>
<circle cx="79.7" cy="367.9" r="22.1" fill="#fff" stroke="#000" stroke-width="1.56"/>
<text x="79.7" y="374.4" class="bl" text-anchor="middle">8</text>
<circle cx="124.3" cy="367.9" r="22.1" fill="#fff" stroke="#000" stroke-width="1.56"/>
<text x="124.3" y="374.4" class="bl" text-anchor="middle">13</text>
<circle cx="78.1" cy="455.6" r="22.1" fill="#fff" stroke="#000" stroke-width="1.56"/>
<text x="78.1" y="462.1" class="bl" text-anchor="middle">19</text>
<circle cx="122.7" cy="455.6" r="22.1" fill="#fff" stroke="#000" stroke-width="1.56"/>
<text x="122.7" y="462.1" class="bl" text-anchor="middle">20</text>
<circle cx="243.6" cy="473.9" r="22.1" fill="#fff" stroke="#000" stroke-width="1.56"/>
<text x="243.6" y="480.4" class="bl" text-anchor="middle">23</text>
<circle cx="297.9" cy="458.9" r="22.1" fill="#fff" stroke="#000" stroke-width="1.56"/>
<text x="297.9" y="465.4" class="bl" text-anchor="middle">1</text>
<rect x="1167.1" y="173.3" width="4.8" height="104" fill="none" stroke="#000" stroke-width="1.68"/>
<line x1="1172" y1="179.9" x2="1295.7" y2="179.9" stroke="#000" stroke-width="1.8"/>
<line x1="1172" y1="183.6" x2="1295.7" y2="183.6" stroke="#000" stroke-width="1.8"/>
<line x1="1172" y1="266.4" x2="1295.7" y2="266.4" stroke="#000" stroke-width="1.8"/>
<line x1="1172" y1="270.4" x2="1295.7" y2="270.4" stroke="#000" stroke-width="1.8"/>
<path d="M1296.3 170.2 L1296.3 197.5 L1290.3 197.2 L1302.8 200.2 L1296.3 199.9 L1296.3 222.4 L1290.3 222.1 L1302.8 225.1 L1296.3 224.8 L1296.3 246.8 L1290.3 246.5 L1302.8 249.5 L1296.3 249.2 L1296.3 280.2" fill="none" stroke="#000" stroke-width="1.44"/>
<line x1="1177.4" y1="183.6" x2="1177.4" y2="266.4" stroke="#000" stroke-width="1.44"/>
<line x1="1172" y1="186" x2="1174" y2="184" stroke="#000" stroke-width="0.96"/>
<line x1="1172" y1="264" x2="1174" y2="266" stroke="#000" stroke-width="0.96"/>
<rect x="1184.3" y="184.9" width="53.1" height="4.4" fill="none" stroke="#000" stroke-width="1.68"/>
<rect x="1196.3" y="189.3" width="29.4" height="21.7" fill="none" stroke="#000" stroke-width="1.68"/>
<line x1="1201.8" y1="211" x2="1201.8" y2="239.6" stroke="#000" stroke-width="1.68"/>
<line x1="1220.3" y1="211" x2="1220.3" y2="239.6" stroke="#000" stroke-width="1.68"/>
<rect x="1196.3" y="239.6" width="29.4" height="21.7" fill="none" stroke="#000" stroke-width="1.68"/>
<rect x="1184.3" y="261.5" width="53.1" height="4.6" fill="none" stroke="#000" stroke-width="1.68"/>
<rect x="1196.3" y="176.1" width="29.4" height="3.8" fill="none" stroke="#000" stroke-width="1.68"/>
<path d="M1202 176.1 L1203.2 169.6 L1218.6 169.6 L1219.8 176.1" fill="none" stroke="#000" stroke-width="1.56"/>
<rect x="1202.6" y="172.6" width="16.6" height="2.8" fill="#000" stroke="#000" stroke-width="0.72"/>
<rect x="1196.3" y="270.4" width="29.4" height="6.9" fill="none" stroke="#000" stroke-width="1.68"/>
<line x1="1196.3" y1="274.4" x2="1225.7" y2="274.4" stroke="#000" stroke-width="1.44"/>
<rect x="1250.6" y="184.9" width="5.9" height="20.4" fill="none" stroke="#000" stroke-width="1.68"/>
<rect x="1250.6" y="245.3" width="5.9" height="20.8" fill="none" stroke="#000" stroke-width="1.68"/>
<rect x="1165.2" y="194.4" width="1.9" height="61.7" fill="#000" stroke="#000" stroke-width="1.44"/>
<rect x="1161.4" y="200.7" width="3.4" height="5.2" fill="none" stroke="#000" stroke-width="1.44"/>
<rect x="1164.8" y="201.5" width="6.9" height="3.6" fill="none" stroke="#000" stroke-width="1.32"/>
<rect x="1161.4" y="243.5" width="3.4" height="5.2" fill="none" stroke="#000" stroke-width="1.44"/>
<rect x="1164.8" y="244.3" width="6.9" height="3.6" fill="none" stroke="#000" stroke-width="1.32"/>
<path d="M1166.21 157.76 L1200.3 173.3" fill="none" stroke="#000" stroke-width="1.44"/>
<polygon points="1200.3,173.3 1192.19,171.8 1193.85,168.16" fill="#000"/>
<path d="M1111.01 216.38 L1164.7 225.2" fill="none" stroke="#000" stroke-width="1.44"/>
<polygon points="1164.7,225.2 1156.48,225.88 1157.13,221.93" fill="#000"/>
<path d="M1123.64 266.17 L1160.9 247.9" fill="none" stroke="#000" stroke-width="1.44"/>
<polygon points="1160.9,247.9 1154.6,253.22 1152.84,249.63" fill="#000"/>
<path d="M1118.17 323.24 L1194.3 278.7" fill="none" stroke="#000" stroke-width="1.44"/>
<polygon points="1194.3,278.7 1188.41,284.47 1186.39,281.01" fill="#000"/>
<path d="M1294.12 298.52 L1276.6 272.3" fill="none" stroke="#000" stroke-width="1.44"/>
<polygon points="1276.6,272.3 1282.71,277.84 1279.38,280.06" fill="#000"/>
<circle cx="1146.1" cy="148.6" r="22.1" fill="#fff" stroke="#000" stroke-width="1.56"/>
<text x="1146.1" y="155.1" class="bl" text-anchor="middle">21</text>
<circle cx="1089.2" cy="212.8" r="22.1" fill="#fff" stroke="#000" stroke-width="1.56"/>
<text x="1089.2" y="219.3" class="bl" text-anchor="middle">7</text>
<circle cx="1059" cy="275.9" r="22.1" fill="#fff" stroke="#000" stroke-width="1.56"/>
<text x="1059" y="282.4" class="bl" text-anchor="middle">15</text>
<circle cx="1103.8" cy="275.9" r="22.1" fill="#fff" stroke="#000" stroke-width="1.56"/>
<text x="1103.8" y="282.4" class="bl" text-anchor="middle">16</text>
<circle cx="1099.1" cy="334.4" r="22.1" fill="#fff" stroke="#000" stroke-width="1.56"/>
<text x="1099.1" y="340.9" class="bl" text-anchor="middle">4</text>
<circle cx="1306.4" cy="316.9" r="22.1" fill="#fff" stroke="#000" stroke-width="1.56"/>
<text x="1306.4" y="323.4" class="bl" text-anchor="middle">2</text>
<line x1="397.6" y1="455" x2="432" y2="455" stroke="#000" stroke-width="2.16"/>
<line x1="397.6" y1="488.5" x2="432" y2="488.5" stroke="#000" stroke-width="2.16"/>
<path d="M400.5 460 L428 460 Q431.2 460 431.2 457" fill="none" stroke="#000" stroke-width="2.3"/>
<path d="M400.5 484 L428 484 Q431.2 484 431.2 487" fill="none" stroke="#000" stroke-width="2.3"/>
<line x1="402" y1="462.3" x2="429.5" y2="462.3" stroke="#000" stroke-width="2.04" stroke-dasharray="3 1.2"/>
<line x1="402" y1="481.7" x2="429.5" y2="481.7" stroke="#000" stroke-width="2.04" stroke-dasharray="3 1.2"/>
<rect x="397.3" y="453.3" width="3.3" height="5.5" rx="1.3" fill="#555" stroke="#000" stroke-width="1.44"/>
<rect x="397.3" y="484.8" width="3.3" height="5.5" rx="1.3" fill="#555" stroke="#000" stroke-width="1.44"/>
<line x1="399" y1="458.8" x2="399" y2="468" stroke="#000" stroke-width="1.92"/>
<line x1="399" y1="476" x2="399" y2="484.8" stroke="#000" stroke-width="1.92"/>
<circle cx="396.7" cy="463.7" r="1.7" fill="#000" stroke="#000" stroke-width="0.96"/>
<circle cx="396.7" cy="480.2" r="1.7" fill="#000" stroke="#000" stroke-width="0.96"/>
<rect x="391.6" y="468" width="40.4" height="8" fill="#fff" stroke="#000" stroke-width="2.04"/>
<line x1="414.2" y1="469.2" x2="414.2" y2="474.8" stroke="#000" stroke-width="1.32" stroke-dasharray="1.6 1.4"/>
<line x1="432.7" y1="455" x2="432.7" y2="488.5" stroke="#000" stroke-width="2.4"/>
<rect x="434" y="458.4" width="3.2" height="7.6" rx="1.5" fill="none" stroke="#000" stroke-width="1.44"/>
<rect x="434" y="478" width="3.2" height="7.8" rx="1.5" fill="none" stroke="#000" stroke-width="1.44"/>
<line x1="435.3" y1="466" x2="435.3" y2="478" stroke="#000" stroke-width="1.68"/>
<line x1="432" y1="455" x2="703" y2="455" stroke="#000" stroke-width="2.16"/>
<line x1="432" y1="488.5" x2="703" y2="488.5" stroke="#000" stroke-width="2.16"/>
<line x1="438.5" y1="456.8" x2="672" y2="456.8" stroke="#000" stroke-width="1.56" stroke-dasharray="5.4 1"/>
<line x1="438.5" y1="486.9" x2="672" y2="486.9" stroke="#000" stroke-width="1.56" stroke-dasharray="5.4 1"/>
<line x1="438.5" y1="466.1" x2="703" y2="466.1" stroke="#000" stroke-width="1.5" stroke-dasharray="3 1.5"/>
<line x1="438.5" y1="478.4" x2="703" y2="478.4" stroke="#000" stroke-width="1.5" stroke-dasharray="3 1.5"/>
<line x1="439" y1="471.9" x2="703" y2="471.9" stroke="#000" stroke-width="5.4"/>
<rect x="464" y="446" width="42.5" height="4.2" fill="none" stroke="#000" stroke-width="1.68"/>
<line x1="464" y1="450.2" x2="464" y2="455" stroke="#000" stroke-width="1.68"/>
<line x1="480" y1="450.2" x2="480" y2="455" stroke="#000" stroke-width="1.68"/>
<rect x="506.5" y="446.3" width="3.5" height="3.6" fill="#000" stroke="#000" stroke-width="1.2"/>
<circle cx="512" cy="448.1" r="1.9" fill="#000" stroke="#000" stroke-width="0.96"/>
<rect x="464" y="493.6" width="42.5" height="4.4" fill="none" stroke="#000" stroke-width="1.68"/>
<line x1="464" y1="493.6" x2="464" y2="488.1" stroke="#000" stroke-width="1.68"/>
<line x1="480" y1="493.6" x2="480" y2="488.1" stroke="#000" stroke-width="1.68"/>
<rect x="506.5" y="494" width="3.5" height="3.6" fill="#000" stroke="#000" stroke-width="1.2"/>
<circle cx="512" cy="495.8" r="1.9" fill="#000" stroke="#000" stroke-width="0.96"/>
<line x1="672" y1="453" x2="703" y2="453" stroke="#000" stroke-width="2.6"/>
<line x1="672" y1="490.6" x2="703" y2="490.6" stroke="#000" stroke-width="2.6"/>
<line x1="691.5" y1="451.4" x2="703" y2="451.4" stroke="#000" stroke-width="1.92"/>
<line x1="691.5" y1="492.2" x2="703" y2="492.2" stroke="#000" stroke-width="1.92"/>
<rect x="677.4" y="458.6" width="9" height="26.4" fill="none" stroke="#000" stroke-width="1.44" stroke-dasharray="3 1.5"/>
<path d="M699 456 Q701.5 472 699 488" fill="none" stroke="#000" stroke-width="1.2"/>
<rect x="703" y="452.2" width="24.5" height="39.2" fill="#fff" stroke="#000" stroke-width="1.92"/>
<line x1="703" y1="460.1" x2="727.5" y2="460.1" stroke="#000" stroke-width="1.44" stroke-dasharray="4 2.2"/>
<line x1="703" y1="483.6" x2="727.5" y2="483.6" stroke="#000" stroke-width="1.44" stroke-dasharray="4 2.2"/>
<rect x="714.6" y="445.7" width="18" height="4.7" rx="2" fill="none" stroke="#000" stroke-width="1.68"/>
<rect x="714.6" y="493.2" width="18" height="4.7" rx="2" fill="none" stroke="#000" stroke-width="1.68"/>
<line x1="727.5" y1="452.7" x2="896" y2="452.7" stroke="#000" stroke-width="1.8"/>
<line x1="727.5" y1="491.3" x2="896" y2="491.3" stroke="#000" stroke-width="1.8"/>
<line x1="727.5" y1="454.3" x2="896" y2="454.3" stroke="#000" stroke-width="1.62" stroke-dasharray="9.4 3.4"/>
<line x1="727.5" y1="489.7" x2="896" y2="489.7" stroke="#000" stroke-width="1.62" stroke-dasharray="9.4 3.4"/>
<line x1="727.5" y1="460.4" x2="896" y2="460.4" stroke="#000" stroke-width="1.5" stroke-dasharray="3.2 1.5"/>
<line x1="727.5" y1="483.5" x2="896" y2="483.5" stroke="#000" stroke-width="1.5" stroke-dasharray="3.2 1.5"/>
<line x1="727.5" y1="471.9" x2="896" y2="471.9" stroke="#000" stroke-width="3.9"/>
<rect x="786.6" y="445" width="29.6" height="53.4" rx="14.8" fill="none" stroke="#000" stroke-width="1.56" stroke-dasharray="4 2"/>
<line x1="896" y1="437.4" x2="1040.7" y2="437.4" stroke="#000" stroke-width="3.7"/>
<line x1="896" y1="451.9" x2="1040.7" y2="451.9" stroke="#000" stroke-width="4.6"/>
<line x1="896" y1="491.9" x2="1040.7" y2="491.9" stroke="#000" stroke-width="4.6"/>
<line x1="896" y1="506.6" x2="1040.7" y2="506.6" stroke="#000" stroke-width="3.7"/>
<line x1="896.6" y1="435" x2="896.6" y2="509" stroke="#000" stroke-width="2.16"/>
<line x1="899" y1="438" x2="899" y2="451" stroke="#000" stroke-width="1.44"/>
<line x1="899" y1="493" x2="899" y2="506" stroke="#000" stroke-width="1.44"/>
<rect x="896.6" y="453.4" width="31.6" height="37.2" fill="#fff" stroke="#000" stroke-width="1.92"/>
<line x1="896.6" y1="460.2" x2="985.4" y2="460.2" stroke="#000" stroke-width="1.56" stroke-dasharray="4 2.2"/>
<line x1="896.6" y1="483.6" x2="985.4" y2="483.6" stroke="#000" stroke-width="1.56" stroke-dasharray="4 2.2"/>
<line x1="928.2" y1="454.4" x2="985" y2="454.4" stroke="#000" stroke-width="1.44" stroke-dasharray="9 3"/>
<line x1="928.2" y1="489.6" x2="985" y2="489.6" stroke="#000" stroke-width="1.44" stroke-dasharray="9 3"/>
<line x1="928.2" y1="472" x2="1003" y2="472" stroke="#000" stroke-width="3.2"/>
<polygon points="1007.5,472 1000,469.2 1000,474.8" fill="#000"/>
<line x1="1007.9" y1="453.4" x2="1007.9" y2="490.6" stroke="#000" stroke-width="1.68"/>
<line x1="967.4" y1="436.6" x2="967.4" y2="452.1" stroke="#000" stroke-width="2.8"/>
<line x1="980.3" y1="436.6" x2="980.3" y2="452.1" stroke="#000" stroke-width="1.56"/>
<line x1="990.6" y1="436.6" x2="990.6" y2="452.1" stroke="#000" stroke-width="1.92"/>
<line x1="968" y1="450.95" x2="981" y2="450.95" stroke="#000" stroke-width="1.44"/>
<line x1="967.4" y1="491.9" x2="967.4" y2="507.4" stroke="#000" stroke-width="2.8"/>
<line x1="980.3" y1="491.9" x2="980.3" y2="507.4" stroke="#000" stroke-width="1.56"/>
<line x1="990.6" y1="491.9" x2="990.6" y2="507.4" stroke="#000" stroke-width="1.92"/>
<line x1="968" y1="493.05" x2="981" y2="493.05" stroke="#000" stroke-width="1.44"/>
<rect x="985.4" y="455.6" width="15.5" height="14.4" fill="none" stroke="#000" stroke-width="1.68" stroke-dasharray="2.5 1.8"/>
<rect x="985.4" y="474" width="15.5" height="15.2" fill="none" stroke="#000" stroke-width="1.68" stroke-dasharray="2.5 1.8"/>
<line x1="993" y1="455.6" x2="993" y2="489.2" stroke="#000" stroke-width="1.44" stroke-dasharray="2.5 1.8"/>
<rect x="904.4" y="415" width="15.5" height="20.6" fill="#fff" stroke="#000" stroke-width="1.8"/>
<rect x="900.6" y="433.6" width="23.1" height="3" fill="#666" stroke="#000" stroke-width="1.44"/>
<rect x="905.5" y="430.6" width="13.3" height="3" fill="#444" stroke="#000" stroke-width="0.96"/>
<rect x="903.6" y="415" width="17.1" height="5" rx="1.5" fill="#222" stroke="#000" stroke-width="1.44"/>
<line x1="908" y1="416" x2="908" y2="419.4" stroke="#fff" stroke-width="1.08"/>
<line x1="912.2" y1="416" x2="912.2" y2="419.4" stroke="#fff" stroke-width="1.08"/>
<line x1="916.4" y1="416" x2="916.4" y2="419.4" stroke="#fff" stroke-width="1.08"/>
<rect x="904.4" y="508.4" width="15.5" height="20.6" fill="#fff" stroke="#000" stroke-width="1.8"/>
<rect x="900.6" y="507.4" width="23.1" height="3" fill="#666" stroke="#000" stroke-width="1.44"/>
<rect x="905.5" y="510.4" width="13.3" height="3" fill="#444" stroke="#000" stroke-width="0.96"/>
<rect x="903.6" y="524" width="17.1" height="5" rx="1.5" fill="#222" stroke="#000" stroke-width="1.44"/>
<line x1="908" y1="528" x2="908" y2="524.6" stroke="#fff" stroke-width="1.08"/>
<line x1="912.2" y1="528" x2="912.2" y2="524.6" stroke="#fff" stroke-width="1.08"/>
<line x1="916.4" y1="528" x2="916.4" y2="524.6" stroke="#fff" stroke-width="1.08"/>
<path d="M896 443.7 L888 443.7 Q884.5 447 884.5 451.2 L896 451.2" fill="none" stroke="#000" stroke-width="1.56"/>
<path d="M896 500.3 L888 500.3 Q884.5 497 884.5 492.8 L896 492.8" fill="none" stroke="#000" stroke-width="1.56"/>
<rect x="1009" y="433.4" width="30.4" height="1.8" rx="1" fill="#555" stroke="#000" stroke-width="1.44"/>
<rect x="1009" y="508.8" width="30.4" height="1.8" rx="1" fill="#555" stroke="#000" stroke-width="1.44"/>
<path d="M605.2 424.6 L588.5 464.6" fill="none" stroke="#000" stroke-width="1.44"/>
<path d="M740.8 518.92 L729.7 499.1" fill="none" stroke="#000" stroke-width="1.44"/>
<polygon points="729.7,499.1 735.35,505.1 731.86,507.06" fill="#000"/>
<path d="M769 379.7 L778.5 379.7 L794.8 443.5" fill="none" stroke="#000" stroke-width="1.44"/>
<polygon points="794.8,443.5 790.88,436.24 794.76,435.25" fill="#000"/>
<path d="M874.41 390.92 L903.4 413.6" fill="none" stroke="#000" stroke-width="1.44"/>
<polygon points="903.4,413.6 895.87,410.25 898.33,407.1" fill="#000"/>
<path d="M924.51 381.97 L915.6 413.6" fill="none" stroke="#000" stroke-width="1.44"/>
<polygon points="915.6,413.6 915.84,405.36 919.69,406.44" fill="#000"/>
<path d="M1064.16 465.58 L999.7 477.4" fill="none" stroke="#000" stroke-width="1.44"/>
<polygon points="999.7,477.4 1007.21,473.99 1007.93,477.92" fill="#000"/>
<path d="M1002.75 522.23 L992.9 495.1" fill="none" stroke="#000" stroke-width="1.44"/>
<polygon points="992.9,495.1 997.51,501.94 993.75,503.3" fill="#000"/>
<circle cx="615.6" cy="404.9" r="22.1" fill="#fff" stroke="#000" stroke-width="1.56"/>
<text x="615.6" y="411.4" class="bl" text-anchor="middle">12</text>
<circle cx="751.6" cy="538.2" r="22.1" fill="#fff" stroke="#000" stroke-width="1.56"/>
<text x="751.6" y="544.7" class="bl" text-anchor="middle">5</text>
<circle cx="857" cy="377.3" r="22.1" fill="#fff" stroke="#000" stroke-width="1.56"/>
<text x="857" y="383.8" class="bl" text-anchor="middle">11</text>
<circle cx="930.5" cy="360.7" r="22.1" fill="#fff" stroke="#000" stroke-width="1.56"/>
<text x="930.5" y="367.2" class="bl" text-anchor="middle">17</text>
<circle cx="975" cy="360.7" r="22.1" fill="#fff" stroke="#000" stroke-width="1.56"/>
<text x="975" y="367.2" class="bl" text-anchor="middle">22</text>
<circle cx="1085.9" cy="461.6" r="22.1" fill="#fff" stroke="#000" stroke-width="1.56"/>
<text x="1085.9" y="468.1" class="bl" text-anchor="middle">10</text>
<circle cx="1010.3" cy="543" r="22.1" fill="#fff" stroke="#000" stroke-width="1.56"/>
<text x="1010.3" y="549.5" class="bl" text-anchor="middle">9</text>
<circle cx="1055" cy="543" r="22.1" fill="#fff" stroke="#000" stroke-width="1.56"/>
<text x="1055" y="549.5" class="bl" text-anchor="middle">18</text>
<path d="M1133.1 625.3 L1133.1 652.1 L1127.1 651.8 L1139.6 654.8 L1133.1 654.5 L1133.1 676.4 L1127.1 676.1 L1139.6 679.1 L1133.1 678.8 L1133.1 702.4 L1127.1 702.1 L1139.6 705.1 L1133.1 704.8 L1133.1 735.6" fill="none" stroke="#000" stroke-width="1.44"/>
<line x1="1133.1" y1="633.9" x2="1250.3" y2="633.9" stroke="#000" stroke-width="2.4"/>
<line x1="1133.1" y1="635.6" x2="1261.1" y2="635.6" stroke="#000" stroke-width="1.44"/>
<line x1="1133.1" y1="639.3" x2="1261.1" y2="639.3" stroke="#000" stroke-width="1.68" stroke-dasharray="7 3"/>
<line x1="1261.1" y1="635" x2="1261.1" y2="725.3" stroke="#000" stroke-width="1.68"/>
<line x1="1133.1" y1="721.5" x2="1261.1" y2="721.5" stroke="#000" stroke-width="1.68" stroke-dasharray="7 3"/>
<line x1="1133.1" y1="724.6" x2="1261.1" y2="724.6" stroke="#000" stroke-width="1.44"/>
<line x1="1133.1" y1="726.3" x2="1250.3" y2="726.3" stroke="#000" stroke-width="2.4"/>
<rect x="1177.9" y="648.1" width="78.1" height="64" fill="none" stroke="#000" stroke-width="1.68" stroke-dasharray="4 2"/>
<rect x="1183.2" y="653.6" width="67.1" height="53.1" rx="4.6" fill="none" stroke="#000" stroke-width="1.92"/>
<rect x="1187.4" y="657.5" width="58.9" height="44.9" fill="none" stroke="#000" stroke-width="1.8"/>
<line x1="1216.9" y1="657.5" x2="1216.9" y2="702.4" stroke="#000" stroke-width="1.68"/>
<circle cx="1194.3" cy="666.7" r="5.1" fill="none" stroke="#000" stroke-width="1.68"/>
<line x1="1190.1" y1="666.7" x2="1198.5" y2="666.7" stroke="#000" stroke-width="2.16"/>
<circle cx="1209.9" cy="666.7" r="5.1" fill="none" stroke="#000" stroke-width="1.68"/>
<line x1="1206.93" y1="669.67" x2="1212.87" y2="663.73" stroke="#000" stroke-width="2.16"/>
<circle cx="1223.4" cy="666.7" r="5.1" fill="none" stroke="#000" stroke-width="1.68"/>
<line x1="1219.2" y1="666.7" x2="1227.6" y2="666.7" stroke="#000" stroke-width="2.16"/>
<circle cx="1239.7" cy="666.7" r="5.1" fill="none" stroke="#000" stroke-width="1.68"/>
<line x1="1236.73" y1="669.67" x2="1242.67" y2="663.73" stroke="#000" stroke-width="2.16"/>
<circle cx="1194.3" cy="693.3" r="5.1" fill="none" stroke="#000" stroke-width="1.68"/>
<line x1="1191.33" y1="696.27" x2="1197.27" y2="690.33" stroke="#000" stroke-width="2.16"/>
<circle cx="1209.9" cy="693.3" r="5.1" fill="none" stroke="#000" stroke-width="1.68"/>
<line x1="1205.7" y1="693.3" x2="1214.1" y2="693.3" stroke="#000" stroke-width="2.16"/>
<circle cx="1223.4" cy="693.3" r="5.1" fill="none" stroke="#000" stroke-width="1.68"/>
<line x1="1220.43" y1="696.27" x2="1226.37" y2="690.33" stroke="#000" stroke-width="2.16"/>
<circle cx="1239.7" cy="693.3" r="5.1" fill="none" stroke="#000" stroke-width="1.68"/>
<line x1="1235.5" y1="693.3" x2="1243.9" y2="693.3" stroke="#000" stroke-width="2.16"/>
<line x1="1133.1" y1="677.8" x2="1177.9" y2="677.8" stroke="#000" stroke-width="1.92" stroke-dasharray="7 3"/>
<line x1="1133.1" y1="683.8" x2="1177.9" y2="683.8" stroke="#000" stroke-width="1.92" stroke-dasharray="7 3"/>
<line x1="1133.1" y1="679.6" x2="1183.2" y2="679.6" stroke="#000" stroke-width="1.44"/>
<line x1="1133.1" y1="681.9" x2="1183.2" y2="681.9" stroke="#000" stroke-width="1.44"/>
<line x1="1177.9" y1="677.8" x2="1183.2" y2="677.8" stroke="#000" stroke-width="1.32"/>
<line x1="1177.9" y1="683.8" x2="1183.2" y2="683.8" stroke="#000" stroke-width="1.32"/>
<line x1="1177.5" y1="677" x2="1177.5" y2="684.6" stroke="#000" stroke-width="2.4"/>
<line x1="1250.3" y1="677.8" x2="1261.1" y2="677.8" stroke="#000" stroke-width="1.32"/>
<line x1="1250.3" y1="679.6" x2="1261.1" y2="679.6" stroke="#000" stroke-width="1.32"/>
<line x1="1250.3" y1="681.9" x2="1261.1" y2="681.9" stroke="#000" stroke-width="1.32"/>
<line x1="1255.5" y1="677" x2="1255.5" y2="684" stroke="#000" stroke-width="1.44"/>
<path d="M1204.47 614.24 L1192.1 633.3" fill="none" stroke="#000" stroke-width="1.44"/>
<polygon points="1192.1,633.3 1194.78,625.5 1198.13,627.68" fill="#000"/>
<path d="M1282.26 624.31 L1244.6 661.9" fill="none" stroke="#000" stroke-width="1.44"/>
<circle cx="1249" cy="656.7" r="1.2" fill="#000" stroke="#000" stroke-width="0.72"/>
<path d="M1279.43 691.57 L1218.3 676.7" fill="none" stroke="#000" stroke-width="1.44"/>
<polygon points="1218.3,676.7 1226.55,676.65 1225.6,680.53" fill="#000"/>
<circle cx="1216.5" cy="595.7" r="22.1" fill="#fff" stroke="#000" stroke-width="1.56"/>
<text x="1216.5" y="602.2" class="bl" text-anchor="middle">2</text>
<circle cx="1297.9" cy="608.7" r="22.1" fill="#fff" stroke="#000" stroke-width="1.56"/>
<text x="1297.9" y="615.2" class="bl" text-anchor="middle">14</text>
<circle cx="1300.9" cy="696.8" r="22.1" fill="#fff" stroke="#000" stroke-width="1.56"/>
<text x="1300.9" y="703.3" class="bl" text-anchor="middle">6</text>
<rect x="208.6" y="563.6" width="8.6" height="61.1" fill="#fff" stroke="#000" stroke-width="1.8"/>
<line x1="208.6" y1="570.5" x2="217.2" y2="570.5" stroke="#000" stroke-width="1.08" stroke-dasharray="2 2"/>
<line x1="208.6" y1="593" x2="217.2" y2="593" stroke="#000" stroke-width="1.32"/>
<line x1="208.6" y1="596.8" x2="217.2" y2="596.8" stroke="#000" stroke-width="1.08" stroke-dasharray="2 2"/>
<path d="M197.6 610 L199.8 608 L207.2 608 L207.2 624.8 L218.7 624.8 L218.7 608 L225.8 608 L228 610" fill="none" stroke="#000" stroke-width="2.2"/>
<line x1="197.6" y1="610" x2="194.2" y2="828" stroke="#000" stroke-width="1.56"/>
<line x1="228" y1="610" x2="231.6" y2="828" stroke="#000" stroke-width="1.56"/>
<line x1="200.2" y1="612" x2="197.4" y2="826" stroke="#000" stroke-width="2.8" stroke-dasharray="10 4"/>
<line x1="225.2" y1="612" x2="228.2" y2="826" stroke="#000" stroke-width="2.8" stroke-dasharray="10 4"/>
<line x1="197.5" y1="827" x2="228" y2="827" stroke="#000" stroke-width="2.2" stroke-dasharray="9 3"/>
<path d="M207 827.5 Q212.5 830.5 218 827.5" fill="none" stroke="#000" stroke-width="1.8"/>
<line x1="193.9" y1="828" x2="193.9" y2="870" stroke="#000" stroke-width="1.92"/>
<line x1="231.4" y1="828" x2="231.4" y2="870" stroke="#000" stroke-width="1.92"/>
<line x1="196.5" y1="829" x2="196.5" y2="868" stroke="#000" stroke-width="2.4" stroke-dasharray="3.5 2"/>
<line x1="229.2" y1="829" x2="229.2" y2="868" stroke="#000" stroke-width="2.4" stroke-dasharray="3.5 2"/>
<path d="M193.9 868 Q193.9 871.4 197 871.4 L231.4 871.4 L231.4 868" fill="none" stroke="#000" stroke-width="2.8"/>
<line x1="196" y1="869.2" x2="230" y2="869.2" stroke="#000" stroke-width="2.2" stroke-dasharray="7 3.5"/>
<circle cx="189" cy="837.9" r="2.4" fill="#000" stroke="#000" stroke-width="1.2"/>
<line x1="189" y1="837.9" x2="197" y2="837.9" stroke="#000" stroke-width="2.4"/>
<circle cx="236.5" cy="837.9" r="2.4" fill="#000" stroke="#000" stroke-width="1.2"/>
<line x1="228.5" y1="837.9" x2="236.5" y2="837.9" stroke="#000" stroke-width="2.4"/>
<rect x="191.2" y="846" width="2.6" height="6.8" fill="#000" stroke="#000" stroke-width="1.2"/>
<rect x="201.2" y="844.3" width="23.4" height="22.9" rx="2.6" fill="#fff" stroke="#000" stroke-width="2.04"/>
<circle cx="204.7" cy="855.9" r="1.6" fill="none" stroke="#000" stroke-width="1.44"/>
<circle cx="220.8" cy="855.9" r="1.6" fill="none" stroke="#000" stroke-width="1.44"/>
<path d="M162.07 871.81 L191.2 853" fill="none" stroke="#000" stroke-width="1.44"/>
<polygon points="191.2,853 185.56,859.02 183.39,855.66" fill="#000"/>
<path d="M199.71 899.96 L210.2 872.6" fill="none" stroke="#000" stroke-width="1.44"/>
<polygon points="210.2,872.6 209.2,880.79 205.47,879.35" fill="#000"/>
<path d="M247 901.5 L229.5 871.5 Q225.5 866 221.5 857" fill="none" stroke="#000" stroke-width="1.56"/>
<circle cx="99" cy="883.8" r="22.1" fill="#fff" stroke="#000" stroke-width="1.56"/>
<text x="99" y="890.3" class="bl" text-anchor="middle">4</text>
<circle cx="143.5" cy="883.8" r="22.1" fill="#fff" stroke="#000" stroke-width="1.56"/>
<text x="143.5" y="890.3" class="bl" text-anchor="middle">21</text>
<circle cx="191.8" cy="920.6" r="22.1" fill="#fff" stroke="#000" stroke-width="1.56"/>
<text x="191.8" y="927.1" class="bl" text-anchor="middle">7</text>
<circle cx="257" cy="922" r="22.1" fill="#fff" stroke="#000" stroke-width="1.56"/>
<text x="257" y="928.5" class="bl" text-anchor="middle">15</text>
<circle cx="301.3" cy="922" r="22.1" fill="#fff" stroke="#000" stroke-width="1.56"/>
<text x="301.3" y="928.5" class="bl" text-anchor="middle">16</text>
<rect x="397.6" y="608.6" width="3" height="263.8" fill="#555" stroke="#000" stroke-width="0.96"/>
<line x1="397.6" y1="608.6" x2="397.6" y2="872.4" stroke="#000" stroke-width="1.8"/>
<line x1="400.6" y1="610" x2="400.6" y2="827" stroke="#000" stroke-width="1.56"/>
<path d="M397.6 611 Q397.6 608.5 400 608.5 L430.2 608.5 Q432.7 608.5 432.7 611" fill="none" stroke="#000" stroke-width="2.6"/>
<line x1="428.8" y1="610" x2="428.8" y2="827" stroke="#000" stroke-width="1.56"/>
<line x1="432.1" y1="610" x2="432.1" y2="754.7" stroke="#000" stroke-width="2.8"/>
<line x1="431.7" y1="614" x2="431.7" y2="754" stroke="#fff" stroke-width="1.8" stroke-dasharray="1.8 12"/>
<line x1="397.6" y1="623.6" x2="430" y2="623.6" stroke="#000" stroke-width="1.68" stroke-dasharray="5 2.5"/>
<path d="M432.7 608.5 C433 596 431.5 588 429.3 583.3 C425 573 418 568.5 414.3 567 C409 564.5 405 563.6 402.3 563.6 C398 563.6 395 564.3 393.7 565.7 C392 567 391.6 568.5 392 569.1 C392.4 571 393.5 571.8 394.6 571.7 C397 571.2 398.5 570.2 400.6 570.4 C403.5 571 406 573.5 407.4 575.6 C410.5 579.5 412.3 583 413 585.8 C414 588.5 414.4 591 413.8 592.7 C413.2 595.5 411.5 596.6 410 597 C407 597.9 404.5 598 402.3 597.8 C400.5 597.5 399.2 596.6 398.4 595.3 L396.7 592.7 L392.9 592.7 Q391.8 593 391.8 594.4 L391.8 601.3 L397.6 622.7" fill="none" stroke="#000" stroke-width="1.56"/>
<rect x="428.9" y="754.7" width="6.6" height="72" fill="#555" stroke="#000" stroke-width="1.56"/>
<line x1="429.6" y1="754.7" x2="429.6" y2="826.7" stroke="#000" stroke-width="2.16"/>
<line x1="433" y1="758" x2="433" y2="826" stroke="#fff" stroke-width="1.68" stroke-dasharray="1.1 6.4"/>
<rect x="419" y="802.3" width="18.7" height="16.7" fill="#fff" stroke="#000" stroke-width="1.8"/>
<line x1="434.8" y1="803" x2="434.8" y2="818.5" stroke="#000" stroke-width="1.2" stroke-dasharray="1.5 3"/>
<line x1="400.6" y1="826.6" x2="699.5" y2="826.6" stroke="#000" stroke-width="1.68"/>
<line x1="404" y1="828" x2="697" y2="828" stroke="#000" stroke-width="1.56" stroke-dasharray="10.5 3"/>
<line x1="397.6" y1="871.5" x2="674.5" y2="871.5" stroke="#000" stroke-width="2.4"/>
<line x1="404" y1="869.2" x2="676" y2="869.2" stroke="#000" stroke-width="2.4" stroke-dasharray="10.5 3"/>
<line x1="400.6" y1="827" x2="400.6" y2="870" stroke="#000" stroke-width="1.56"/>
<circle cx="396.2" cy="855.5" r="1.1" fill="#000" stroke="#000" stroke-width="0.96"/>
<circle cx="422.3" cy="849.2" r="5.6" fill="none" stroke="#000" stroke-width="1.8"/>
<circle cx="422.3" cy="849.2" r="3.4" fill="none" stroke="#000" stroke-width="1.8"/>
<path d="M440.3 840.2 L423.4 840.2 Q414 840.2 414 849.5 Q414 858.9 423.4 858.9 L440.3 858.9" fill="none" stroke="#000" stroke-width="1.56" stroke-dasharray="3 1.8"/>
<rect x="434.5" y="843.6" width="5.8" height="12" fill="none" stroke="#000" stroke-width="1.56" stroke-dasharray="3 1.8"/>
<line x1="440.3" y1="843.85" x2="677.3" y2="843.85" stroke="#000" stroke-width="1.68" stroke-dasharray="3 1.4"/>
<line x1="440.3" y1="855.6" x2="469.2" y2="855.6" stroke="#000" stroke-width="1.68" stroke-dasharray="3 1.4"/>
<line x1="497.5" y1="855.6" x2="677.3" y2="855.6" stroke="#000" stroke-width="1.68" stroke-dasharray="3 1.4"/>
<rect x="677.3" y="836.5" width="8.3" height="25.5" fill="none" stroke="#000" stroke-width="1.56" stroke-dasharray="3 1.8"/>
<rect x="464" y="836.1" width="41.2" height="4.1" fill="none" stroke="#000" stroke-width="1.68"/>
<rect x="505.2" y="836.6" width="4.3" height="3.1" fill="#333" stroke="#000" stroke-width="1.2"/>
<circle cx="511.6" cy="838.2" r="2" fill="#000" stroke="#000" stroke-width="0.96"/>
<line x1="453.1" y1="845.4" x2="487.2" y2="845.4" stroke="#000" stroke-width="2.6"/>
<line x1="485.9" y1="845.4" x2="485.9" y2="872.4" stroke="#000" stroke-width="2.6"/>
<line x1="453.1" y1="843.9" x2="486" y2="843.9" stroke="#000" stroke-width="1.44" stroke-dasharray="1.5 1.5"/>
<polygon points="479.2,873 493.4,873 486.2,898.6" fill="url(#hv)" stroke="#000" stroke-width="1.7" stroke-linejoin="miter"/>
<line x1="354.2" y1="845.4" x2="388.2" y2="845.4" stroke="#000" stroke-width="2.4"/>
<line x1="355.4" y1="845.4" x2="355.4" y2="872" stroke="#000" stroke-width="2.4"/>
<polygon points="347,872.3 362.4,872.3 354.8,898.6" fill="url(#hv)" stroke="#000" stroke-width="1.7" stroke-linejoin="miter"/>
<text x="328" y="891.8" class="sl" textLength="11.5" lengthAdjust="spacingAndGlyphs">B</text>
<text x="500" y="891.8" class="sl" textLength="11.5" lengthAdjust="spacingAndGlyphs">B</text>
<line x1="662.5" y1="784.9" x2="662.5" y2="817" stroke="#000" stroke-width="2.5"/>
<line x1="661.3" y1="784.9" x2="689" y2="784.9" stroke="#000" stroke-width="2.5"/>
<polygon points="688.4,776.8 688.4,792.4 716.6,784.6" fill="url(#hh)" stroke="#000" stroke-width="1.7" stroke-linejoin="miter"/>
<line x1="662.4" y1="882.6" x2="662.4" y2="915.6" stroke="#000" stroke-width="2.4"/>
<line x1="661.2" y1="915.6" x2="689" y2="915.6" stroke="#000" stroke-width="2.4"/>
<polygon points="688.4,908 688.4,923.6 717.2,915.8" fill="url(#hh)" stroke="#000" stroke-width="1.7" stroke-linejoin="miter"/>
<text x="667.2" y="775.6" class="sl" textLength="12.2" lengthAdjust="spacingAndGlyphs">A</text>
<text x="667.2" y="940.4" class="sl" textLength="12.2" lengthAdjust="spacingAndGlyphs">A</text>
<line x1="703" y1="824.25" x2="1008.5" y2="824.25" stroke="#000" stroke-width="1.38"/>
<line x1="730" y1="826.1" x2="896" y2="826.1" stroke="#000" stroke-width="1.56" stroke-dasharray="9.5 4"/>
<line x1="969" y1="826.1" x2="1008" y2="826.1" stroke="#000" stroke-width="1.56" stroke-dasharray="9.5 4"/>
<line x1="703" y1="823.6" x2="728.1" y2="823.6" stroke="#000" stroke-width="2.6"/>
<line x1="728.1" y1="823" x2="728.1" y2="849.1" stroke="#000" stroke-width="1.92"/>
<line x1="676" y1="873.5" x2="1008" y2="873.5" stroke="#000" stroke-width="2.5" stroke-dasharray="9.5 4"/>
<line x1="722" y1="875.7" x2="904" y2="875.7" stroke="#000" stroke-width="1.32"/>
<line x1="904" y1="876.3" x2="1008" y2="876.3" stroke="#000" stroke-width="1.44" stroke-dasharray="6 3"/>
<line x1="703" y1="824.2" x2="674.1" y2="872.3" stroke="#000" stroke-width="1.68"/>
<line x1="700.4" y1="824.2" x2="672.8" y2="870.5" stroke="#000" stroke-width="1.44"/>
<line x1="672.8" y1="873.6" x2="722.3" y2="873.6" stroke="#000" stroke-width="2.6"/>
<line x1="672.8" y1="876.2" x2="722.3" y2="876.2" stroke="#000" stroke-width="1.56"/>
<rect x="674.7" y="878.7" width="42.4" height="3.9" fill="none" stroke="#000" stroke-width="1.68"/>
<rect x="676.2" y="882.6" width="4.8" height="2.6" rx="0.8" fill="#000" stroke="#000" stroke-width="1.2"/>
<rect x="711" y="882.6" width="4.8" height="2.6" rx="0.8" fill="#000" stroke="#000" stroke-width="1.2"/>
<line x1="709.4" y1="838.1" x2="976" y2="838.1" stroke="#000" stroke-width="1.8" stroke-dasharray="2.8 1.6"/>
<line x1="709.4" y1="861" x2="1000" y2="861" stroke="#000" stroke-width="1.8" stroke-dasharray="2.8 1.6"/>
<path d="M718.4 869.1 L695.5 869.1 Q692.1 869.1 692.1 865.7 L692.1 846.6 Q692.1 840 700.4 832.4" fill="none" stroke="#000" stroke-width="1.68"/>
<circle cx="710.5" cy="835.5" r="1" fill="#000" stroke="#000" stroke-width="0.72"/>
<circle cx="710.5" cy="842" r="1" fill="#000" stroke="#000" stroke-width="0.72"/>
<circle cx="698.8" cy="856.6" r="1" fill="#000" stroke="#000" stroke-width="0.72"/>
<circle cx="709" cy="856.6" r="1" fill="#000" stroke="#000" stroke-width="0.72"/>
<circle cx="698.8" cy="863" r="1" fill="#000" stroke="#000" stroke-width="0.72"/>
<circle cx="709" cy="863" r="1" fill="#000" stroke="#000" stroke-width="0.72"/>
<path d="M715.6 838 Q714 832 720.4 831.2 Q726 831 727 837 L732 878.7 L731.9 886.4 L722.3 886.9 L722.3 878.7 Z" fill="none" stroke="#000" stroke-width="1.8"/>
<circle cx="723.2" cy="857.5" r="1.2" fill="none" stroke="#000" stroke-width="1.2"/>
<line x1="723.2" y1="858.6" x2="723.2" y2="860.6" stroke="#000" stroke-width="1.2"/>
<rect x="725" y="883.3" width="4.2" height="2" rx="1" fill="#000" stroke="#000" stroke-width="0.96"/>
<rect x="732.6" y="882.3" width="28.2" height="3" fill="none" stroke="#000" stroke-width="1.32"/>
<rect x="760.6" y="879.5" width="12.6" height="7.8" rx="3.8" fill="#fff" stroke="#000" stroke-width="1.68"/>
<circle cx="764.6" cy="883.4" r="1.5" fill="none" stroke="#000" stroke-width="1.32"/>
<rect x="773.2" y="876.3" width="103.9" height="12.5" fill="#fff" stroke="#000" stroke-width="0.12"/>
<rect x="773.2" y="876.3" width="103.9" height="3.7" fill="#000" stroke="#000" stroke-width="0.12"/>
<rect x="773.2" y="886.4" width="103.9" height="2.4" fill="#000" stroke="#000" stroke-width="0.12"/>
<rect x="773.2" y="876.3" width="46.1" height="12.5" fill="#000" stroke="#000" stroke-width="0.12"/>
<rect x="787" y="880.7" width="32.3" height="2" fill="#fff" stroke="#fff" stroke-width="0.12"/>
<rect x="775" y="883.9" width="28.5" height="2.2" rx="1" fill="#fff" stroke="#fff" stroke-width="0.12"/>
<rect x="776.5" y="884.4" width="25.5" height="1.2" fill="#000" stroke="#000" stroke-width="0.12"/>
<line x1="789" y1="887.6" x2="794" y2="887.6" stroke="#fff" stroke-width="0.84"/>
<line x1="805" y1="884.6" x2="818" y2="884.6" stroke="#999" stroke-width="1.44" stroke-dasharray="3 2"/>
<line x1="821" y1="880.4" x2="868" y2="880.4" stroke="#fff" stroke-width="1.44" stroke-dasharray="3.5 8.5"/>
<line x1="824" y1="886.2" x2="868" y2="886.2" stroke="#fff" stroke-width="1.44" stroke-dasharray="3.5 8.5"/>
<rect x="868.6" y="875.7" width="5.4" height="7" fill="#000" stroke="#000" stroke-width="0.12"/>
<line x1="783.6" y1="873.6" x2="783.6" y2="876.5" stroke="#000" stroke-width="1.68"/>
<line x1="876.1" y1="875.7" x2="876.1" y2="892.9" stroke="#000" stroke-width="2.2"/>
<rect x="877.1" y="878.9" width="18.3" height="9.1" fill="none" stroke="#000" stroke-width="1.68"/>
<rect x="885.5" y="880" width="7.5" height="3.2" fill="#fff" stroke="#000" stroke-width="1.2"/>
<line x1="890.3" y1="880" x2="890.3" y2="892.3" stroke="#000" stroke-width="2.2"/>
<rect x="887.6" y="880.2" width="5.4" height="2.8" fill="none" stroke="#000" stroke-width="1.44"/>
<line x1="896.2" y1="823.1" x2="896.2" y2="875.9" stroke="#000" stroke-width="1.92"/>
<line x1="896.2" y1="823.6" x2="928.6" y2="823.6" stroke="#000" stroke-width="2.8"/>
<path d="M967.1 827 L898.6 827 L898.6 864.3 L991 864.3" fill="none" stroke="#000" stroke-width="2.6" stroke-dasharray="4 2.6"/>
<path d="M967.1 827 L979.6 842.4 L979.6 864" fill="none" stroke="#000" stroke-width="2.6" stroke-dasharray="4 2.6"/>
<circle cx="912.2" cy="839.2" r="11.6" fill="#fff" stroke="#000" stroke-width="1.8"/>
<circle cx="912.2" cy="839.2" r="10" fill="none" stroke="#000" stroke-width="1.56"/>
<circle cx="912.2" cy="839.2" r="7.2" fill="none" stroke="#000" stroke-width="1.8"/>
<circle cx="912.2" cy="835.6" r="1.5" fill="none" stroke="#000" stroke-width="1.2"/>
<circle cx="912.2" cy="842.8" r="1.5" fill="none" stroke="#000" stroke-width="1.2"/>
<circle cx="908.6" cy="839.2" r="1.5" fill="none" stroke="#000" stroke-width="1.2"/>
<circle cx="915.8" cy="839.2" r="1.5" fill="none" stroke="#000" stroke-width="1.2"/>
<line x1="898.6" y1="838.2" x2="900.6" y2="838.2" stroke="#000" stroke-width="1.44"/>
<line x1="1008" y1="825" x2="1008" y2="875" stroke="#000" stroke-width="1.8" stroke-dasharray="9 4"/>
<line x1="1008.5" y1="824.5" x2="1038.2" y2="869.6" stroke="#000" stroke-width="1.68"/>
<line x1="904.1" y1="875.9" x2="1020.4" y2="891.6" stroke="#000" stroke-width="1.68"/>
<circle cx="1024" cy="876" r="14.2" fill="#fff" stroke="#000" stroke-width="1.8"/>
<path d="M1036.2 867.6 A15.6 15.6 0 0 1 1019.5 891.4" fill="none" stroke="#000" stroke-width="1.56"/>
<circle cx="1024" cy="876" r="6" fill="none" stroke="#000" stroke-width="1.8"/>
<rect x="1014" y="870" width="3" height="12.5" fill="none" stroke="#000" stroke-width="1.44"/>
<rect x="1030.8" y="870" width="3" height="12.5" fill="none" stroke="#000" stroke-width="1.44"/>
<rect x="985.5" y="835" width="14.5" height="26.5" fill="none" stroke="#000" stroke-width="1.68" stroke-dasharray="3 2"/>
<circle cx="994" cy="849.5" r="6.3" fill="#fff" stroke="#000" stroke-width="1.56"/>
<circle cx="994" cy="849.5" r="4" fill="#000" stroke="#000" stroke-width="1.2"/>
<circle cx="994" cy="849.5" r="0.8" fill="#fff" stroke="#000" stroke-width="0.48"/>
<path d="M1000.2 844 L1000.2 838.6 L1003 838.6 Q1005 839.8 1003 841.6 L1000.2 841.6" fill="none" stroke="#000" stroke-width="1.68"/>
<line x1="980.5" y1="837.5" x2="985.5" y2="837.5" stroke="#000" stroke-width="1.44" stroke-dasharray="2 1.5"/>
<path d="M472.21 651.84 L433.5 671.1" fill="none" stroke="#000" stroke-width="1.44"/>
<polygon points="433.5,671.1 439.77,665.75 441.55,669.33" fill="#000"/>
<path d="M541.06 786.48 L550.75 842.5" fill="none" stroke="#000" stroke-width="1.44"/>
<polygon points="550.75,842.5 547.42,834.96 551.36,834.28" fill="#000"/>
<path d="M448.26 902.57 L427.3 858.8" fill="none" stroke="#000" stroke-width="1.44"/>
<polygon points="427.3,858.8 432.56,865.15 428.95,866.88" fill="#000"/>
<path d="M802.65 788.31 L814.2 823.7" fill="none" stroke="#000" stroke-width="1.44"/>
<polygon points="814.2,823.7 809.82,816.71 813.62,815.47" fill="#000"/>
<path d="M900.69 789.78 L909.5 826.3" fill="none" stroke="#000" stroke-width="1.44"/>
<path d="M896.15 910.52 L912.8 851" fill="none" stroke="#000" stroke-width="1.44"/>
<polygon points="912.8,851 912.57,859.24 908.72,858.17" fill="#000"/>
<path d="M777.2 910.71 L783.9 889.3" fill="none" stroke="#000" stroke-width="1.44"/>
<polygon points="783.9,889.3 783.42,897.53 779.6,896.34" fill="#000"/>
<path d="M1016.14 792.55 L997.5 841.5" fill="none" stroke="#000" stroke-width="1.44"/>
<circle cx="492" cy="642" r="22.1" fill="#fff" stroke="#000" stroke-width="1.56"/>
<text x="492" y="648.5" class="bl" text-anchor="middle">2</text>
<circle cx="537.3" cy="764.7" r="22.1" fill="#fff" stroke="#000" stroke-width="1.56"/>
<text x="537.3" y="771.2" class="bl" text-anchor="middle">12</text>
<circle cx="457.8" cy="922.5" r="22.1" fill="#fff" stroke="#000" stroke-width="1.56"/>
<text x="457.8" y="929" class="bl" text-anchor="middle">4</text>
<circle cx="795.8" cy="767.3" r="22.1" fill="#fff" stroke="#000" stroke-width="1.56"/>
<text x="795.8" y="773.8" class="bl" text-anchor="middle">3</text>
<circle cx="895.5" cy="768.3" r="22.1" fill="#fff" stroke="#000" stroke-width="1.56"/>
<text x="895.5" y="774.8" class="bl" text-anchor="middle">17</text>
<circle cx="940.2" cy="768.3" r="22.1" fill="#fff" stroke="#000" stroke-width="1.56"/>
<text x="940.2" y="774.8" class="bl" text-anchor="middle">22</text>
<circle cx="1046.7" cy="809.7" r="22.1" fill="#fff" stroke="#000" stroke-width="1.56"/>
<text x="1046.7" y="816.2" class="bl" text-anchor="middle">18</text>
<circle cx="1024" cy="771.9" r="22.1" fill="#fff" stroke="#000" stroke-width="1.56"/>
<text x="1024" y="778.4" class="bl" text-anchor="middle">9</text>
<circle cx="1068.9" cy="771.9" r="22.1" fill="#fff" stroke="#000" stroke-width="1.56"/>
<text x="1068.9" y="778.4" class="bl" text-anchor="middle">10</text>
<circle cx="770.6" cy="931.8" r="22.1" fill="#fff" stroke="#000" stroke-width="1.56"/>
<text x="770.6" y="938.3" class="bl" text-anchor="middle">5</text>
<circle cx="890.2" cy="931.8" r="22.1" fill="#fff" stroke="#000" stroke-width="1.56"/>
<text x="890.2" y="938.3" class="bl" text-anchor="middle">11</text>
</svg>
</body></html>
